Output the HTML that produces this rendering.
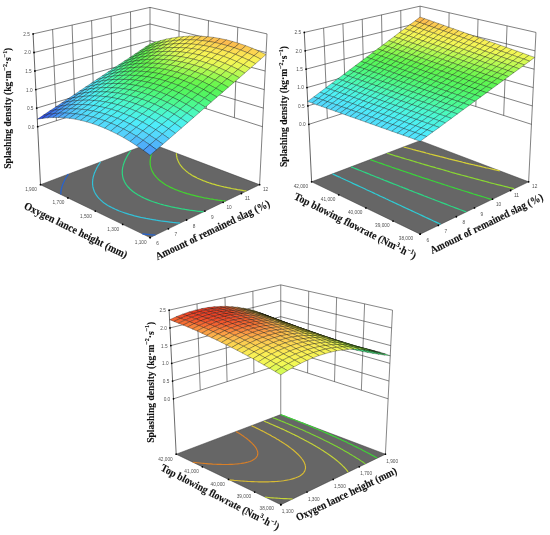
<!DOCTYPE html><html><head><meta charset="utf-8"><title>Figure</title>
<style>html,body{margin:0;padding:0;background:#fff}svg{display:block}</style></head><body>
<svg width="550" height="535" viewBox="0 0 550 535">
<rect width="550" height="535" fill="#fff"/>
<g transform="translate(0,0) scale(1)">
<path d="M37.7,126.7 L150,90.7 L262.5,126.7 M36.7,108.1 L150,74.1 L263.4,108.1 M35.8,89.6 L150,57.4 L264.3,89.6 M34.9,71 L150,40.7 L265.2,71 M34,52.5 L150,24 L266.1,52.5 M33.1,33.9 L150,7.4 L267,33.9 M56.4,120.7 L52.6,29.5 M75.1,114.7 L72.1,25.1 M93.8,108.7 L91.6,20.6 M112.6,102.7 L111.1,16.2 M131.3,96.7 L130.5,11.8 M150,143.2 L150,7.4 M259.6,184.7 L267,33.9 M234.4,117.7 L237.8,27.3 M206.3,108.7 L208.5,20.6 M178.1,99.7 L179.3,14" fill="none" stroke="#2c2c2c" stroke-width="0.6"/>
<path d="M40.5,184.7 L33.1,33.9" fill="none" stroke="#222" stroke-width="0.7"/>
<polygon points="40.5,184.7 150,143.2 259.6,184.7 150.1,237.6" fill="#666666" stroke="#333" stroke-width="0.5"/>
<polyline points="142.3,233.8 144.9,234.1 146.7,234.3 148.4,234.4 150.1,234.6 152.5,234.8 155,235 155.5,235" fill="none" stroke="#2563d1" stroke-width="1.2"/>
<polyline points="68.3,174.2 67.7,175.1 67.1,176 66.7,176.6 66.3,177.3 65.9,177.9 65.5,178.6 65.1,179.5 64.6,180.3 64.2,181.2 63.8,182 63.5,182.7 63.2,183.4 62.9,184.1 62.7,184.8 62.4,185.5 62.1,186.3 61.9,187 61.7,187.8 61.5,188.6 61.3,189.4 61.2,190.2 61,191 60.9,191.9 60.9,192.7 60.8,193.6 60.8,194.5 60.8,194.5" fill="none" stroke="#2563d1" stroke-width="1.2"/>
<polyline points="100.6,162 100,162.7 99.7,163.3 99.3,163.9 98.8,164.6 98.3,165.4 97.8,166.2 97.5,166.8 97.1,167.4 96.8,168 96.4,168.8 96,169.7 95.6,170.5 95.3,171.2 95,171.8 94.7,172.5 94.5,173.1 94.2,173.8 94,174.5 93.7,175.3 93.5,176.1 93.3,176.9 93.1,177.7 93,178.4 92.8,179.2 92.7,179.9 92.7,180.7 92.6,181.4 92.6,182.1 92.5,182.9 92.6,183.6 92.6,184.3 92.7,185.2 92.8,186 92.9,186.9 93.1,187.8 93.3,188.4 93.5,189.1 93.7,189.8 94.1,190.8 94.4,191.7 94.7,192.3 95.1,193 95.8,194.2 96.2,194.8 96.6,195.5 97.5,196.6 97.9,197.2 98.9,198.3 99.5,198.9 100.5,199.9 101.2,200.6 102.5,201.6 103.1,202.2 104.5,203.2 106,204.2 106.7,204.7 108.3,205.7 110,206.6 111.7,207.5 113.5,208.4 115.4,209.3 117.3,210.1 119.4,211 121.5,211.8 123.6,212.5 124.7,212.9 127,213.6 129.3,214.4 130.5,214.7 133,215.4 134.5,215.8 136.7,216.3 138.7,216.8 140.7,217.3 142.5,217.7 144.7,218.1 146.1,218.4 148.9,218.9 150.3,219.2 152.7,219.6 154.7,219.9 156.2,220.2 158.8,220.6 160.7,220.9 162.3,221.1 164.5,221.4 167,221.7 168.6,221.9 170.2,222.1 172.7,222.4 175.1,222.6 176.8,222.8 178.4,222.9 180.1,223.1" fill="none" stroke="#32c1d8" stroke-width="1.2"/>
<polyline points="130.8,150.5 130.2,151.4 129.8,152 129.4,152.5 129.1,153.1 128.5,153.9 128.1,154.7 127.7,155.2 127.4,155.7 127,156.4 126.6,157.3 126.2,158 125.9,158.6 125.6,159.1 125.3,159.7 125,160.5 124.6,161.3 124.3,162.1 124.1,162.7 123.9,163.3 123.6,164 123.4,164.6 123.3,165.2 123.1,165.9 122.9,166.7 122.7,167.4 122.6,168.2 122.5,168.9 122.4,169.6 122.3,170.3 122.3,171.1 122.3,171.8 122.3,172.5 122.3,173.2 122.3,173.9 122.4,174.5 122.5,175.3 122.6,176.1 122.8,176.9 123,177.8 123.2,178.5 123.4,179.2 123.7,179.8 124,180.5 124.4,181.5 124.8,182.3 125.2,182.9 125.6,183.6 126.3,184.7 126.7,185.3 127.2,185.9 128.1,187 128.6,187.5 129.6,188.5 130.2,189.2 131.2,190 132,190.8 133.3,191.8 134,192.3 135.4,193.3 136.7,194.1 137.7,194.7 139.3,195.6 140.9,196.5 142.7,197.4 144.5,198.3 146.4,199.1 148.3,199.9 150.3,200.7 152.4,201.5 154.6,202.2 156.7,202.9 157.9,203.3 160.2,204 162.4,204.6 163.8,205 166.3,205.6 167.5,205.9 170.1,206.5 171.4,206.8 174,207.3 175.4,207.6 178.1,208.1 179.5,208.4 181.7,208.8 183.7,209.1 185.2,209.4 187.9,209.8 189.6,210.1 191.1,210.3 193.8,210.6 195.6,210.9 197.2,211.1 199.3,211.3 201.9,211.6 203.5,211.8 203.5,211.8" fill="none" stroke="#2cd783" stroke-width="1.2"/>
<polyline points="155.5,145.3 155.2,145.8 154.9,146.4 154.4,147.2 154.1,147.9 153.8,148.4 153.5,148.9 153.2,149.6 152.9,150.3 152.5,151.1 152.3,151.7 152.1,152.2 151.9,152.8 151.7,153.4 151.4,154.2 151.2,154.9 151,155.6 150.8,156.3 150.7,156.9 150.6,157.6 150.5,158.2 150.4,158.8 150.3,159.5 150.2,160.1 150.2,160.8 150.1,161.4 150.1,162.1 150.2,162.8 150.2,163.5 150.2,164.2 150.3,165 150.4,165.7 150.6,166.5 150.8,167.2 151,168 151.2,168.6 151.4,169.2 151.6,169.9 151.9,170.5 152.3,171.4 152.8,172.3 153.1,172.9 153.5,173.5 154,174.3 154.6,175.2 155.1,175.7 155.6,176.4 156.5,177.4 157,177.9 157.9,178.9 158.6,179.5 159.4,180.2 160.4,181 161.4,181.8 162.4,182.5 163.8,183.5 164.5,184 166,184.9 167.6,185.8 168.6,186.3 170.1,187.1 171.8,187.9 173.7,188.8 175.5,189.6 177.5,190.3 179.5,191.1 181.6,191.8 182.9,192.3 184.8,192.9 187,193.6 189.3,194.2 190.5,194.6 192.8,195.2 194.8,195.7 196.5,196.1 199,196.7 200.3,196.9 202.9,197.5 204.2,197.8 206.6,198.2 208.3,198.5 209.9,198.8 212.4,199.2 213.8,199.5 216.2,199.8 218.1,200.1 219.6,200.3 222.1,200.7 224.1,200.9 225.6,201.1 225.6,201.1" fill="none" stroke="#43d42f" stroke-width="1.2"/>
<polyline points="176.4,153.2 176.4,153.8 176.4,154.5 176.5,155.2 176.6,155.8 176.7,156.5 176.9,157.2 177,157.9 177.2,158.7 177.5,159.3 177.7,159.9 177.9,160.5 178.2,161.1 178.5,161.8 178.9,162.6 179.4,163.5 179.7,164 180.1,164.6 180.6,165.3 181.3,166.2 181.8,166.8 182.2,167.3 183.1,168.3 183.7,168.9 184.2,169.4 185.4,170.4 185.9,170.9 187.2,171.9 187.8,172.4 189.1,173.4 189.8,173.8 191.2,174.7 192.3,175.4 193.5,176.1 195.1,176.9 196.8,177.8 197.6,178.2 199.4,179 201.2,179.8 203.1,180.6 205,181.3 207,182.1 209.1,182.8 210.1,183.1 212.3,183.8 214.5,184.4 216.7,185.1 217.9,185.4 220.2,186 222.2,186.5 223.9,186.9 226.3,187.4 227.6,187.7 230.2,188.2 231.5,188.5 234.1,189 235.4,189.2 237.5,189.6 239.5,189.9 240.9,190.1 243.7,190.6 245.1,190.8 246.5,191" fill="none" stroke="#cad636" stroke-width="1.2"/>
<circle cx="150.1" cy="237.6" r="0.9" fill="#000"/>
<circle cx="168.4" cy="228.8" r="0.9" fill="#000"/>
<circle cx="186.6" cy="220" r="0.9" fill="#000"/>
<circle cx="204.9" cy="211.1" r="0.9" fill="#000"/>
<circle cx="223.1" cy="202.3" r="0.9" fill="#000"/>
<circle cx="241.4" cy="193.5" r="0.9" fill="#000"/>
<circle cx="259.6" cy="184.7" r="0.9" fill="#000"/>
<circle cx="150.1" cy="237.6" r="0.9" fill="#000"/>
<circle cx="122.7" cy="224.4" r="0.9" fill="#000"/>
<circle cx="95.3" cy="211.1" r="0.9" fill="#000"/>
<circle cx="67.9" cy="197.9" r="0.9" fill="#000"/>
<circle cx="40.5" cy="184.7" r="0.9" fill="#000"/>
<circle cx="37.7" cy="126.7" r="0.9" fill="#000"/>
<circle cx="36.7" cy="108.1" r="0.9" fill="#000"/>
<circle cx="35.8" cy="89.6" r="0.9" fill="#000"/>
<circle cx="34.9" cy="71" r="0.9" fill="#000"/>
<circle cx="34" cy="52.5" r="0.9" fill="#000"/>
<circle cx="33.1" cy="33.9" r="0.9" fill="#000"/>
<g stroke="#000" stroke-opacity="0.66" stroke-width="0.46" stroke-linejoin="round">
<polygon points="150.3,45.6 155.4,42.1 150,44 144.9,47.4" fill="#67f64e"/>
<polygon points="145.1,49.1 150.3,45.6 144.9,47.4 139.7,50.9" fill="#5cf655"/>
<polygon points="155.8,44 160.9,40.5 155.4,42.1 150.3,45.6" fill="#8ef94f"/>
<polygon points="139.9,52.6 145.1,49.1 139.7,50.9 134.5,54.4" fill="#55f65e"/>
<polygon points="150.6,47.6 155.8,44 150.3,45.6 145.1,49.1" fill="#74f74f"/>
<polygon points="134.6,56.2 139.9,52.6 134.5,54.4 129.3,57.9" fill="#4ff76b"/>
<polygon points="161.3,42.7 166.5,39.1 160.9,40.5 155.8,44" fill="#b3fa52"/>
<polygon points="145.3,51.1 150.6,47.6 145.1,49.1 139.9,52.6" fill="#60f651"/>
<polygon points="129.3,59.8 134.6,56.2 129.3,57.9 123.9,61.4" fill="#4df880"/>
<polygon points="156.1,46.3 161.3,42.7 155.8,44 150.6,47.6" fill="#97f950"/>
<polygon points="167,41.6 172.1,38 166.5,39.1 161.3,42.7" fill="#d4fa55"/>
<polygon points="140,54.7 145.3,51.1 139.9,52.6 134.6,56.2" fill="#58f65a"/>
<polygon points="150.9,49.9 156.1,46.3 150.6,47.6 145.3,51.1" fill="#7df84f"/>
<polygon points="123.9,63.4 129.3,59.8 123.9,61.4 118.6,65" fill="#4bfa94"/>
<polygon points="161.8,45.2 167,41.6 161.3,42.7 156.1,46.3" fill="#b9fa53"/>
<polygon points="134.7,58.4 140,54.7 134.6,56.2 129.3,59.8" fill="#51f663"/>
<polygon points="172.7,40.8 177.9,37.1 172.1,38 167,41.6" fill="#eef855"/>
<polygon points="145.6,53.6 150.9,49.9 145.3,51.1 140,54.7" fill="#63f64e"/>
<polygon points="118.4,67.1 123.9,63.4 118.6,65 113.1,68.6" fill="#4bf9ac"/>
<polygon points="156.5,48.9 161.8,45.2 156.1,46.3 150.9,49.9" fill="#9dfa50"/>
<polygon points="129.3,62.1 134.7,58.4 129.3,59.8 123.9,63.4" fill="#4ef776"/>
<polygon points="167.5,44.4 172.7,40.8 167,41.6 161.8,45.2" fill="#d7f955"/>
<polygon points="140.2,57.3 145.6,53.6 140,54.7 134.7,58.4" fill="#5bf657"/>
<polygon points="112.9,70.8 118.4,67.1 113.1,68.6 107.6,72.3" fill="#4bf8c5"/>
<polygon points="178.5,40.2 183.7,36.5 177.9,37.1 172.7,40.8" fill="#f6f455"/>
<polygon points="151.2,52.6 156.5,48.9 150.9,49.9 145.6,53.6" fill="#83f84f"/>
<polygon points="123.8,65.8 129.3,62.1 123.9,63.4 118.4,67.1" fill="#4cf98b"/>
<polygon points="162.2,48.2 167.5,44.4 161.8,45.2 156.5,48.9" fill="#bcfa53"/>
<polygon points="134.8,61 140.2,57.3 134.7,58.4 129.3,62.1" fill="#53f660"/>
<polygon points="107.4,74.6 112.9,70.8 107.6,72.3 102.1,76" fill="#4cf6da"/>
<polygon points="173.2,43.9 178.5,40.2 172.7,40.8 167.5,44.4" fill="#edf855"/>
<polygon points="145.8,56.4 151.2,52.6 145.6,53.6 140.2,57.3" fill="#68f64e"/>
<polygon points="118.3,69.6 123.8,65.8 118.4,67.1 112.9,70.8" fill="#4bfaa2"/>
<polygon points="184.3,39.9 189.5,36.1 183.7,36.5 178.5,40.2" fill="#faee55"/>
<polygon points="156.9,51.9 162.2,48.2 156.5,48.9 151.2,52.6" fill="#9ffa50"/>
<polygon points="129.3,64.8 134.8,61 129.3,62.1 123.8,65.8" fill="#4ff770"/>
<polygon points="101.8,78.3 107.4,74.6 102.1,76 96.5,79.7" fill="#4df2ea"/>
<polygon points="168,47.7 173.2,43.9 167.5,44.4 162.2,48.2" fill="#d5fa55"/>
<polygon points="140.4,60.1 145.8,56.4 140.2,57.3 134.8,61" fill="#5cf655"/>
<polygon points="112.8,73.4 118.3,69.6 112.9,70.8 107.4,74.6" fill="#4bf9ba"/>
<polygon points="179.1,43.7 184.3,39.9 178.5,40.2 173.2,43.9" fill="#f5f555"/>
<polygon points="151.5,55.7 156.9,51.9 151.2,52.6 145.8,56.4" fill="#84f84f"/>
<polygon points="123.8,68.6 129.3,64.8 123.8,65.8 118.3,69.6" fill="#4df985"/>
<polygon points="96.1,82.2 101.8,78.3 96.5,79.7 90.9,83.5" fill="#4eeefa"/>
<polygon points="190.3,39.8 195.5,36 189.5,36.1 184.3,39.9" fill="#fbe253"/>
<polygon points="162.6,51.5 168,47.7 162.2,48.2 156.9,51.9" fill="#bafa53"/>
<polygon points="134.9,64 140.4,60.1 134.8,61 129.3,64.8" fill="#55f65e"/>
<polygon points="107.1,77.2 112.8,73.4 107.4,74.6 101.8,78.3" fill="#4bf8d3"/>
<polygon points="173.8,47.5 179.1,43.7 173.2,43.9 168,47.7" fill="#e9f855"/>
<polygon points="146,59.6 151.5,55.7 145.8,56.4 140.4,60.1" fill="#69f64e"/>
<polygon points="118.2,72.4 123.8,68.6 118.3,69.6 112.8,73.4" fill="#4bfa9a"/>
<polygon points="90.4,86 96.1,82.2 90.9,83.5 85.2,87.3" fill="#51e3fb"/>
<polygon points="185,43.7 190.3,39.8 184.3,39.9 179.1,43.7" fill="#f9f155"/>
<polygon points="157.2,55.4 162.6,51.5 156.9,51.9 151.5,55.7" fill="#9dfa50"/>
<polygon points="129.4,67.8 134.9,64 129.3,64.8 123.8,68.6" fill="#4ff76d"/>
<polygon points="196.3,40.1 201.5,36.2 195.5,36 190.3,39.8" fill="#fcd752"/>
<polygon points="101.5,81.1 107.1,77.2 101.8,78.3 96.1,82.2" fill="#4cf4e3"/>
<polygon points="168.5,51.4 173.8,47.5 168,47.7 162.6,51.5" fill="#d1fa55"/>
<polygon points="140.5,63.5 146,59.6 140.4,60.1 134.9,64" fill="#5cf655"/>
<polygon points="112.6,76.3 118.2,72.4 112.8,73.4 107.1,77.2" fill="#4bf9b4"/>
<polygon points="84.6,89.9 90.4,86 85.2,87.3 79.4,91.2" fill="#54d9fc"/>
<polygon points="179.8,47.6 185,43.7 179.1,43.7 173.8,47.5" fill="#f4f655"/>
<polygon points="151.8,59.3 157.2,55.4 151.5,55.7 146,59.6" fill="#82f84f"/>
<polygon points="123.8,71.7 129.4,67.8 123.8,68.6 118.2,72.4" fill="#4df882"/>
<polygon points="191.1,44 196.3,40.1 190.3,39.8 185,43.7" fill="#fbe954"/>
<polygon points="95.7,85 101.5,81.1 96.1,82.2 90.4,86" fill="#4ef0f4"/>
<polygon points="163.1,55.3 168.5,51.4 162.6,51.5 157.2,55.4" fill="#b4fa52"/>
<polygon points="202.4,40.6 207.6,36.7 201.5,36.2 196.3,40.1" fill="#fccd51"/>
<polygon points="135,67.4 140.5,63.5 134.9,64 129.4,67.8" fill="#55f65e"/>
<polygon points="106.9,80.2 112.6,76.3 107.1,77.2 101.5,81.1" fill="#4bf8cd"/>
<polygon points="78.8,93.9 84.6,89.9 79.4,91.2 73.6,95.1" fill="#53cafc"/>
<polygon points="174.4,51.5 179.8,47.6 173.8,47.5 168.5,51.4" fill="#e1f955"/>
<polygon points="146.3,63.2 151.8,59.3 146,59.6 140.5,63.5" fill="#67f64e"/>
<polygon points="118.1,75.7 123.8,71.7 118.2,72.4 112.6,76.3" fill="#4bfa97"/>
<polygon points="185.8,47.9 191.1,44 185,43.7 179.8,47.6" fill="#f7f355"/>
<polygon points="89.9,88.9 95.7,85 90.4,86 84.6,89.9" fill="#50e7fb"/>
<polygon points="157.6,59.2 163.1,55.3 157.2,55.4 151.8,59.3" fill="#97f950"/>
<polygon points="197.2,44.6 202.4,40.6 196.3,40.1 191.1,44" fill="#fbe153"/>
<polygon points="129.4,71.3 135,67.4 129.4,67.8 123.8,71.7" fill="#4ff76c"/>
<polygon points="101.1,84.2 106.9,80.2 101.5,81.1 95.7,85" fill="#4cf5df"/>
<polygon points="72.9,97.9 78.8,93.9 73.6,95.1 67.7,99" fill="#51b8fb"/>
<polygon points="169,55.5 174.4,51.5 168.5,51.4 163.1,55.3" fill="#c8fa54"/>
<polygon points="208.6,41.4 213.8,37.4 207.6,36.7 202.4,40.6" fill="#fcc650"/>
<polygon points="140.7,67.2 146.3,63.2 140.5,63.5 135,67.4" fill="#5cf656"/>
<polygon points="112.4,79.7 118.1,75.7 112.6,76.3 106.9,80.2" fill="#4bf9b1"/>
<polygon points="180.4,51.9 185.8,47.9 179.8,47.6 174.4,51.5" fill="#eff855"/>
<polygon points="84.1,92.9 89.9,88.9 84.6,89.9 78.8,93.9" fill="#53ddfb"/>
<polygon points="152.1,63.2 157.6,59.2 151.8,59.3 146.3,63.2" fill="#7cf84f"/>
<polygon points="191.9,48.6 197.2,44.6 191.1,44 185.8,47.9" fill="#f9f155"/>
<polygon points="123.7,75.3 129.4,71.3 123.8,71.7 118.1,75.7" fill="#4df882"/>
<polygon points="95.3,88.2 101.1,84.2 95.7,85 89.9,88.9" fill="#4df0f0"/>
<polygon points="66.9,101.9 72.9,97.9 67.7,99 61.7,103" fill="#4da6fa"/>
<polygon points="163.5,59.5 169,55.5 163.1,55.3 157.6,59.2" fill="#a9fa51"/>
<polygon points="203.4,45.5 208.6,41.4 202.4,40.6 197.2,44.6" fill="#fcdc52"/>
<polygon points="135.1,71.2 140.7,67.2 135,67.4 129.4,71.3" fill="#54f65f"/>
<polygon points="106.6,83.7 112.4,79.7 106.9,80.2 101.1,84.2" fill="#4bf8ca"/>
<polygon points="175,56 180.4,51.9 174.4,51.5 169,55.5" fill="#d6fa55"/>
<polygon points="214.9,42.5 220.1,38.5 213.8,37.4 208.6,41.4" fill="#fcc04f"/>
<polygon points="78.1,97 84.1,92.9 78.8,93.9 72.9,97.9" fill="#54d0fc"/>
<polygon points="146.5,67.3 152.1,63.2 146.3,63.2 140.7,67.2" fill="#61f64f"/>
<polygon points="186.5,52.6 191.9,48.6 185.8,47.9 180.4,51.9" fill="#f4f655"/>
<polygon points="118,79.4 123.7,75.3 118.1,75.7 112.4,79.7" fill="#4bfa98"/>
<polygon points="89.4,92.3 95.3,88.2 89.9,88.9 84.1,92.9" fill="#4feafa"/>
<polygon points="60.9,106 66.9,101.9 61.7,103 55.7,107" fill="#478ff5"/>
<polygon points="158,63.5 163.5,59.5 157.6,59.2 152.1,63.2" fill="#8df94f"/>
<polygon points="198,49.5 203.4,45.5 197.2,44.6 191.9,48.6" fill="#faed55"/>
<polygon points="129.4,75.3 135.1,71.2 129.4,71.3 123.7,75.3" fill="#4ff76f"/>
<polygon points="169.5,60 175,56 169,55.5 163.5,59.5" fill="#b9fa53"/>
<polygon points="100.8,87.8 106.6,83.7 101.1,84.2 95.3,88.2" fill="#4cf5de"/>
<polygon points="209.6,46.6 214.9,42.5 208.6,41.4 203.4,45.5" fill="#fcd752"/>
<polygon points="72.1,101.1 78.1,97 72.9,97.9 66.9,101.9" fill="#52befb"/>
<polygon points="140.9,71.3 146.5,67.3 140.7,67.2 135.1,71.2" fill="#5af658"/>
<polygon points="221.2,44 226.4,39.8 220.1,38.5 214.9,42.5" fill="#fcbc4e"/>
<polygon points="181.1,56.7 186.5,52.6 180.4,51.9 175,56" fill="#e1f955"/>
<polygon points="112.2,83.5 118,79.4 112.4,79.7 106.6,83.7" fill="#4bf9b1"/>
<polygon points="83.5,96.4 89.4,92.3 84.1,92.9 78.1,97" fill="#52dffb"/>
<polygon points="54.8,110.1 60.9,106 55.7,107 49.6,111" fill="#4078f1"/>
<polygon points="152.4,67.6 158,63.5 152.1,63.2 146.5,67.3" fill="#71f74e"/>
<polygon points="192.7,53.6 198,49.5 191.9,48.6 186.5,52.6" fill="#f5f555"/>
<polygon points="123.7,79.4 129.4,75.3 123.7,75.3 118,79.4" fill="#4df985"/>
<polygon points="204.3,50.8 209.6,46.6 203.4,45.5 198,49.5" fill="#fbe954"/>
<polygon points="164,64.1 169.5,60 163.5,59.5 158,63.5" fill="#9bfa50"/>
<polygon points="94.9,91.9 100.8,87.8 95.3,88.2 89.4,92.3" fill="#4df1ef"/>
<polygon points="66.1,105.2 72.1,101.1 66.9,101.9 60.9,106" fill="#4facfa"/>
<polygon points="135.2,75.5 140.9,71.3 135.1,71.2 129.4,75.3" fill="#52f662"/>
<polygon points="215.9,48.1 221.2,44 214.9,42.5 209.6,46.6" fill="#fcd451"/>
<polygon points="175.6,60.9 181.1,56.7 175,56 169.5,60" fill="#c6fa54"/>
<polygon points="106.4,87.6 112.2,83.5 106.6,83.7 100.8,87.8" fill="#4bf8cb"/>
<polygon points="227.6,45.7 232.8,41.5 226.4,39.8 221.2,44" fill="#fcbc4e"/>
<polygon points="77.5,100.5 83.5,96.4 78.1,97 72.1,101.1" fill="#55d4fc"/>
<polygon points="146.8,71.8 152.4,67.6 146.5,67.3 140.9,71.3" fill="#5ef652"/>
<polygon points="48.6,114.2 54.8,110.1 49.6,111 43.5,115.1" fill="#3963ed"/>
<polygon points="187.2,57.8 192.7,53.6 186.5,52.6 181.1,56.7" fill="#e8f955"/>
<polygon points="117.9,83.5 123.7,79.4 118,79.4 112.2,83.5" fill="#4bfa9c"/>
<polygon points="198.9,54.9 204.3,50.8 198,49.5 192.7,53.6" fill="#f7f355"/>
<polygon points="158.4,68.3 164,64.1 158,63.5 152.4,67.6" fill="#7ff84f"/>
<polygon points="89,96 94.9,91.9 89.4,92.3 83.5,96.4" fill="#4feafa"/>
<polygon points="60,109.4 66.1,105.2 60.9,106 54.8,110.1" fill="#4996f7"/>
<polygon points="129.5,79.6 135.2,75.5 129.4,75.3 123.7,79.4" fill="#4ef776"/>
<polygon points="210.6,52.3 215.9,48.1 209.6,46.6 204.3,50.8" fill="#fbe854"/>
<polygon points="170.1,65 175.6,60.9 169.5,60 164,64.1" fill="#a7fa51"/>
<polygon points="100.5,91.8 106.4,87.6 100.8,87.8 94.9,91.9" fill="#4cf5df"/>
<polygon points="222.4,49.9 227.6,45.7 221.2,44 215.9,48.1" fill="#fcd451"/>
<polygon points="71.4,104.7 77.5,100.5 72.1,101.1 66.1,105.2" fill="#52c1fb"/>
<polygon points="141.1,76 146.8,71.8 140.9,71.3 135.2,75.5" fill="#56f65c"/>
<polygon points="42.4,118.4 48.6,114.2 43.5,115.1 37.3,119.3" fill="#3050e8"/>
<polygon points="181.7,62 187.2,57.8 181.1,56.7 175.6,60.9" fill="#cffa55"/>
<polygon points="234.1,47.7 239.3,43.5 232.8,41.5 227.6,45.7" fill="#fcbf4e"/>
<polygon points="112,87.7 117.9,83.5 112.2,83.5 106.4,87.6" fill="#4bf9b6"/>
<polygon points="193.5,59.2 198.9,54.9 192.7,53.6 187.2,57.8" fill="#edf855"/>
<polygon points="152.8,72.5 158.4,68.3 152.4,67.6 146.8,71.8" fill="#63f64e"/>
<polygon points="82.9,100.2 89,96 83.5,96.4 77.5,100.5" fill="#52dffb"/>
<polygon points="53.8,113.6 60,109.4 54.8,110.1 48.6,114.2" fill="#427ff3"/>
<polygon points="123.7,83.8 129.5,79.6 123.7,79.4 117.9,83.5" fill="#4cf98c"/>
<polygon points="205.2,56.6 210.6,52.3 204.3,50.8 198.9,54.9" fill="#f7f355"/>
<polygon points="164.5,69.3 170.1,65 164,64.1 158.4,68.3" fill="#8af94f"/>
<polygon points="94.5,96 100.5,91.8 94.9,91.9 89,96" fill="#4df1f0"/>
<polygon points="217,54.2 222.4,49.9 215.9,48.1 210.6,52.3" fill="#fbe854"/>
<polygon points="65.3,108.9 71.4,104.7 66.1,105.2 60,109.4" fill="#4faffa"/>
<polygon points="135.3,80.2 141.1,76 135.2,75.5 129.5,79.6" fill="#50f668"/>
<polygon points="176.2,66.2 181.7,62 175.6,60.9 170.1,65" fill="#b0fa52"/>
<polygon points="228.8,52 234.1,47.7 227.6,45.7 222.4,49.9" fill="#fcd752"/>
<polygon points="106.1,91.9 112,87.7 106.4,87.6 100.5,91.8" fill="#4bf8d0"/>
<polygon points="188,63.4 193.5,59.2 187.2,57.8 181.7,62" fill="#d3fa55"/>
<polygon points="147.1,76.7 152.8,72.5 146.8,71.8 141.1,76" fill="#5af657"/>
<polygon points="240.7,50.1 245.9,45.7 239.3,43.5 234.1,47.7" fill="#fcc450"/>
<polygon points="76.9,104.5 82.9,100.2 77.5,100.5 71.4,104.7" fill="#55d4fc"/>
<polygon points="47.6,117.8 53.8,113.6 48.6,114.2 42.4,118.4" fill="#3b69ee"/>
<polygon points="199.8,60.8 205.2,56.6 198.9,54.9 193.5,59.2" fill="#eff855"/>
<polygon points="117.8,88.1 123.7,83.8 117.9,83.5 112,87.7" fill="#4bfaa4"/>
<polygon points="158.8,73.5 164.5,69.3 158.4,68.3 152.8,72.5" fill="#6ef74e"/>
<polygon points="88.5,100.2 94.5,96 89,96 82.9,100.2" fill="#4fe9fa"/>
<polygon points="211.6,58.5 217,54.2 210.6,52.3 205.2,56.6" fill="#f7f355"/>
<polygon points="59.1,113.2 65.3,108.9 60,109.4 53.8,113.6" fill="#4a99f7"/>
<polygon points="129.5,84.4 135.3,80.2 129.5,79.6 123.7,83.8" fill="#4df87f"/>
<polygon points="170.6,70.5 176.2,66.2 170.1,65 164.5,69.3" fill="#92f950"/>
<polygon points="223.5,56.3 228.8,52 222.4,49.9 217,54.2" fill="#fbea54"/>
<polygon points="100.1,96.2 106.1,91.9 100.5,91.8 94.5,96" fill="#4cf4e2"/>
<polygon points="182.4,67.7 188,63.4 181.7,62 176.2,66.2" fill="#b5fa52"/>
<polygon points="141.3,81 147.1,76.7 141.1,76 135.3,80.2" fill="#52f661"/>
<polygon points="235.4,54.4 240.7,50.1 234.1,47.7 228.8,52" fill="#fcdc52"/>
<polygon points="70.7,108.8 76.9,104.5 71.4,104.7 65.3,108.9" fill="#52c2fb"/>
<polygon points="247.3,52.7 252.5,48.3 245.9,45.7 240.7,50.1" fill="#fccc51"/>
<polygon points="194.3,65.2 199.8,60.8 193.5,59.2 188,63.4" fill="#d5fa55"/>
<polygon points="111.9,92.4 117.8,88.1 112,87.7 106.1,91.9" fill="#4bf9be"/>
<polygon points="153.1,77.8 158.8,73.5 152.8,72.5 147.1,76.7" fill="#5df654"/>
<polygon points="82.4,104.5 88.5,100.2 82.9,100.2 76.9,104.5" fill="#52defb"/>
<polygon points="206.2,62.8 211.6,58.5 205.2,56.6 199.8,60.8" fill="#eef855"/>
<polygon points="52.8,117.5 59.1,113.2 53.8,113.6 47.6,117.8" fill="#4382f3"/>
<polygon points="123.6,88.8 129.5,84.4 123.7,83.8 117.8,88.1" fill="#4bfa95"/>
<polygon points="164.9,74.8 170.6,70.5 164.5,69.3 158.8,73.5" fill="#75f74f"/>
<polygon points="218.1,60.7 223.5,56.3 217,54.2 211.6,58.5" fill="#f6f455"/>
<polygon points="94.1,100.5 100.1,96.2 94.5,96 88.5,100.2" fill="#4ef0f4"/>
<polygon points="176.8,72.1 182.4,67.7 176.2,66.2 170.6,70.5" fill="#96f950"/>
<polygon points="230.1,58.8 235.4,54.4 228.8,52 223.5,56.3" fill="#faee55"/>
<polygon points="135.5,85.4 141.3,81 135.3,80.2 129.5,84.4" fill="#4ef775"/>
<polygon points="64.5,113.1 70.7,108.8 65.3,108.9 59.1,113.2" fill="#4faffa"/>
<polygon points="242,57.2 247.3,52.7 240.7,50.1 235.4,54.4" fill="#fbe253"/>
<polygon points="188.8,69.5 194.3,65.2 188,63.4 182.4,67.7" fill="#b7fa53"/>
<polygon points="105.9,96.7 111.9,92.4 106.1,91.9 100.1,96.2" fill="#4bf7d6"/>
<polygon points="147.3,82.2 153.1,77.8 147.1,76.7 141.3,81" fill="#55f65e"/>
<polygon points="254,55.7 259.2,51.3 252.5,48.3 247.3,52.7" fill="#fcd551"/>
<polygon points="76.2,108.9 82.4,104.5 76.9,104.5 70.7,108.8" fill="#55d2fc"/>
<polygon points="200.7,67.2 206.2,62.8 199.8,60.8 194.3,65.2" fill="#d4fa55"/>
<polygon points="117.7,93.1 123.6,88.8 117.8,88.1 111.9,92.4" fill="#4bf9b0"/>
<polygon points="159.2,79.2 164.9,74.8 158.8,73.5 153.1,77.8" fill="#5ff651"/>
<polygon points="212.7,65.1 218.1,60.7 211.6,58.5 206.2,62.8" fill="#eaf855"/>
<polygon points="88,104.9 94.1,100.5 88.5,100.2 82.4,104.5" fill="#50e7fb"/>
<polygon points="171.2,76.5 176.8,72.1 170.6,70.5 164.9,74.8" fill="#79f74f"/>
<polygon points="224.7,63.3 230.1,58.8 223.5,56.3 218.1,60.7" fill="#f5f555"/>
<polygon points="129.6,89.7 135.5,85.4 129.5,84.4 123.6,88.8" fill="#4cf98b"/>
<polygon points="58.2,117.5 64.5,113.1 59.1,113.2 52.8,117.5" fill="#4a99f7"/>
<polygon points="236.7,61.6 242,57.2 235.4,54.4 230.1,58.8" fill="#f9f155"/>
<polygon points="183.1,74 188.8,69.5 182.4,67.7 176.8,72.1" fill="#97f950"/>
<polygon points="99.8,101.1 105.9,96.7 100.1,96.2 94.1,100.5" fill="#4df2e8"/>
<polygon points="141.5,86.6 147.3,82.2 141.3,81 135.5,85.4" fill="#4ff76d"/>
<polygon points="248.7,60.2 254,55.7 247.3,52.7 242,57.2" fill="#fbe954"/>
<polygon points="195.1,71.7 200.7,67.2 194.3,65.2 188.8,69.5" fill="#b5fa52"/>
<polygon points="70,113.3 76.2,108.9 70.7,108.8 64.5,113.1" fill="#52c0fb"/>
<polygon points="260.8,59.1 266,54.5 259.2,51.3 254,55.7" fill="#fce053"/>
<polygon points="153.4,83.6 159.2,79.2 153.1,77.8 147.3,82.2" fill="#57f65c"/>
<polygon points="111.7,97.5 117.7,93.1 111.9,92.4 105.9,96.7" fill="#4bf8ca"/>
<polygon points="207.2,69.6 212.7,65.1 206.2,62.8 200.7,67.2" fill="#cffa55"/>
<polygon points="81.8,109.3 88,104.9 82.4,104.5 76.2,108.9" fill="#53dcfb"/>
<polygon points="165.4,80.9 171.2,76.5 164.9,74.8 159.2,79.2" fill="#60f650"/>
<polygon points="219.2,67.8 224.7,63.3 218.1,60.7 212.7,65.1" fill="#e4f955"/>
<polygon points="123.6,94.2 129.6,89.7 123.6,88.8 117.7,93.1" fill="#4bfaa4"/>
<polygon points="231.3,66.2 236.7,61.6 230.1,58.8 224.7,63.3" fill="#f3f755"/>
<polygon points="177.5,78.4 183.1,74 176.8,72.1 171.2,76.5" fill="#7af84f"/>
<polygon points="93.7,105.5 99.8,101.1 94.1,100.5 88,104.9" fill="#4eeefa"/>
<polygon points="135.6,91 141.5,86.6 135.5,85.4 129.6,89.7" fill="#4df984"/>
<polygon points="243.4,64.8 248.7,60.2 242,57.2 236.7,61.6" fill="#f6f455"/>
<polygon points="189.5,76.2 195.1,71.7 188.8,69.5 183.1,74" fill="#95f950"/>
<polygon points="63.7,117.7 70,113.3 64.5,113.1 58.2,117.5" fill="#4fadfa"/>
<polygon points="255.5,63.7 260.8,59.1 254,55.7 248.7,60.2" fill="#f9f155"/>
<polygon points="147.6,88.1 153.4,83.6 147.3,82.2 141.5,86.6" fill="#50f668"/>
<polygon points="105.6,102 111.7,97.5 105.9,96.7 99.8,101.1" fill="#4cf5df"/>
<polygon points="201.6,74.1 207.2,69.6 200.7,67.2 195.1,71.7" fill="#affa52"/>
<polygon points="75.6,113.8 81.8,109.3 76.2,108.9 70,113.3" fill="#54cefc"/>
<polygon points="159.7,85.4 165.4,80.9 159.2,79.2 153.4,83.6" fill="#58f65a"/>
<polygon points="213.7,72.3 219.2,67.8 212.7,65.1 207.2,69.6" fill="#c8fa54"/>
<polygon points="117.6,98.7 123.6,94.2 117.7,93.1 111.7,97.5" fill="#4bf9bf"/>
<polygon points="225.9,70.8 231.3,66.2 224.7,63.3 219.2,67.8" fill="#daf955"/>
<polygon points="171.7,83 177.5,78.4 171.2,76.5 165.4,80.9" fill="#60f650"/>
<polygon points="87.5,110 93.7,105.5 88,104.9 81.8,109.3" fill="#51e3fb"/>
<polygon points="129.6,95.5 135.6,91 129.6,89.7 123.6,94.2" fill="#4bfa9b"/>
<polygon points="238,69.4 243.4,64.8 236.7,61.6 231.3,66.2" fill="#e9f855"/>
<polygon points="183.9,80.7 189.5,76.2 183.1,74 177.5,78.4" fill="#78f74f"/>
<polygon points="250.2,68.3 255.5,63.7 248.7,60.2 243.4,64.8" fill="#f3f755"/>
<polygon points="141.7,92.6 147.6,88.1 141.5,86.6 135.6,91" fill="#4df87f"/>
<polygon points="99.5,106.5 105.6,102 99.8,101.1 93.7,105.5" fill="#4df0f1"/>
<polygon points="196,78.7 201.6,74.1 195.1,71.7 189.5,76.2" fill="#90f94f"/>
<polygon points="69.2,118.3 75.6,113.8 70,113.3 63.7,117.7" fill="#51bbfb"/>
<polygon points="208.2,76.9 213.7,72.3 207.2,69.6 201.6,74.1" fill="#a7fa51"/>
<polygon points="153.8,90 159.7,85.4 153.4,83.6 147.6,88.1" fill="#50f665"/>
<polygon points="111.5,103.2 117.6,98.7 111.7,97.5 105.6,102" fill="#4bf7d7"/>
<polygon points="220.4,75.4 225.9,70.8 219.2,67.8 213.7,72.3" fill="#bcfa53"/>
<polygon points="165.9,87.5 171.7,83 165.4,80.9 159.7,85.4" fill="#58f65a"/>
<polygon points="81.2,114.6 87.5,110 81.8,109.3 75.6,113.8" fill="#54d7fc"/>
<polygon points="232.6,74.1 238,69.4 231.3,66.2 225.9,70.8" fill="#cefa55"/>
<polygon points="123.6,100.1 129.6,95.5 123.6,94.2 117.6,98.7" fill="#4bf9b7"/>
<polygon points="178.1,85.3 183.9,80.7 177.5,78.4 171.7,83" fill="#60f651"/>
<polygon points="244.8,73 250.2,68.3 243.4,64.8 238,69.4" fill="#daf955"/>
<polygon points="135.7,97.2 141.7,92.6 135.6,91 129.6,95.5" fill="#4bfa96"/>
<polygon points="93.3,111 99.5,106.5 93.7,105.5 87.5,110" fill="#4fe9fa"/>
<polygon points="190.3,83.3 196,78.7 189.5,76.2 183.9,80.7" fill="#72f74f"/>
<polygon points="202.6,81.6 208.2,76.9 201.6,74.1 196,78.7" fill="#88f84f"/>
<polygon points="147.9,94.6 153.8,90 147.6,88.1 141.7,92.6" fill="#4ef87d"/>
<polygon points="105.4,107.8 111.5,103.2 105.6,102 99.5,106.5" fill="#4df2e9"/>
<polygon points="214.8,80 220.4,75.4 213.7,72.3 208.2,76.9" fill="#9bfa50"/>
<polygon points="160.1,92.1 165.9,87.5 159.7,85.4 153.8,90" fill="#50f666"/>
<polygon points="227.1,78.8 232.6,74.1 225.9,70.8 220.4,75.4" fill="#acfa51"/>
<polygon points="74.9,119.1 81.2,114.6 75.6,113.8 69.2,118.3" fill="#53c6fb"/>
<polygon points="117.5,104.7 123.6,100.1 117.6,98.7 111.5,103.2" fill="#4bf8d2"/>
<polygon points="172.3,90 178.1,85.3 171.7,83 165.9,87.5" fill="#57f65b"/>
<polygon points="239.4,77.7 244.8,73 238,69.4 232.6,74.1" fill="#bbfa53"/>
<polygon points="129.7,101.8 135.7,97.2 129.6,95.5 123.6,100.1" fill="#4bf9b2"/>
<polygon points="87,115.7 93.3,111 87.5,110 81.2,114.6" fill="#53ddfb"/>
<polygon points="184.6,88 190.3,83.3 183.9,80.7 178.1,85.3" fill="#5ef653"/>
<polygon points="196.9,86.3 202.6,81.6 196,78.7 190.3,83.3" fill="#69f64e"/>
<polygon points="141.9,99.2 147.9,94.6 141.7,92.6 135.7,97.2" fill="#4bfa94"/>
<polygon points="99.1,112.4 105.4,107.8 99.5,106.5 93.3,111" fill="#4eedfa"/>
<polygon points="209.2,84.8 214.8,80 208.2,76.9 202.6,81.6" fill="#7cf84f"/>
<polygon points="154.2,96.8 160.1,92.1 153.8,90 147.9,94.6" fill="#4df87d"/>
<polygon points="221.5,83.5 227.1,78.8 220.4,75.4 214.8,80" fill="#8cf94f"/>
<polygon points="111.3,109.3 117.5,104.7 111.5,103.2 105.4,107.8" fill="#4cf3e4"/>
<polygon points="233.9,82.5 239.4,77.7 232.6,74.1 227.1,78.8" fill="#9afa50"/>
<polygon points="166.5,94.7 172.3,90 165.9,87.5 160.1,92.1" fill="#50f668"/>
<polygon points="123.6,106.5 129.7,101.8 123.6,100.1 117.5,104.7" fill="#4bf8ce"/>
<polygon points="80.6,120.3 87,115.7 81.2,114.6 74.9,119.1" fill="#54d0fc"/>
<polygon points="178.8,92.7 184.6,88 178.1,85.3 172.3,90" fill="#55f65e"/>
<polygon points="191.1,91 196.9,86.3 190.3,83.3 184.6,88" fill="#5bf656"/>
<polygon points="135.9,103.9 141.9,99.2 135.7,97.2 129.7,101.8" fill="#4bf9b0"/>
<polygon points="92.9,117.1 99.1,112.4 93.3,111 87,115.7" fill="#51e1fb"/>
<polygon points="203.5,89.5 209.2,84.8 202.6,81.6 196.9,86.3" fill="#61f650"/>
<polygon points="148.2,101.5 154.2,96.8 147.9,94.6 141.9,99.2" fill="#4bfa95"/>
<polygon points="215.9,88.3 221.5,83.5 214.8,80 209.2,84.8" fill="#6df74e"/>
<polygon points="105.1,114 111.3,109.3 105.4,107.8 99.1,112.4" fill="#4eeff7"/>
<polygon points="228.3,87.3 233.9,82.5 227.1,78.8 221.5,83.5" fill="#7af84f"/>
<polygon points="160.5,99.4 166.5,94.7 160.1,92.1 154.2,96.8" fill="#4df880"/>
<polygon points="117.4,111.2 123.6,106.5 117.5,104.7 111.3,109.3" fill="#4cf4e2"/>
<polygon points="172.9,97.5 178.8,92.7 172.3,90 166.5,94.7" fill="#4ff76e"/>
<polygon points="185.3,95.8 191.1,91 184.6,88 178.8,92.7" fill="#53f661"/>
<polygon points="129.7,108.7 135.9,103.9 129.7,101.8 123.6,106.5" fill="#4bf8cc"/>
<polygon points="86.5,121.8 92.9,117.1 87,115.7 80.6,120.3" fill="#55d6fc"/>
<polygon points="197.8,94.4 203.5,89.5 196.9,86.3 191.1,91" fill="#58f65b"/>
<polygon points="142.1,106.3 148.2,101.5 141.9,99.2 135.9,103.9" fill="#4bf9b1"/>
<polygon points="210.2,93.2 215.9,88.3 209.2,84.8 203.5,89.5" fill="#5cf655"/>
<polygon points="98.8,118.8 105.1,114 99.1,112.4 92.9,117.1" fill="#51e4fb"/>
<polygon points="222.7,92.2 228.3,87.3 221.5,83.5 215.9,88.3" fill="#60f650"/>
<polygon points="154.5,104.2 160.5,99.4 154.2,96.8 148.2,101.5" fill="#4bfa99"/>
<polygon points="111.2,116 117.4,111.2 111.3,109.3 105.1,114" fill="#4ef0f4"/>
<polygon points="167,102.3 172.9,97.5 166.5,94.7 160.5,99.4" fill="#4df986"/>
<polygon points="179.5,100.7 185.3,95.8 178.8,92.7 172.9,97.5" fill="#4ef775"/>
<polygon points="123.6,113.5 129.7,108.7 123.6,106.5 117.4,111.2" fill="#4cf4e1"/>
<polygon points="191.9,99.3 197.8,94.4 191.1,91 185.3,95.8" fill="#50f667"/>
<polygon points="136,111.1 142.1,106.3 135.9,103.9 129.7,108.7" fill="#4bf8cd"/>
<polygon points="204.5,98.1 210.2,93.2 203.5,89.5 197.8,94.4" fill="#53f660"/>
<polygon points="92.4,123.6 98.8,118.8 92.9,117.1 86.5,121.8" fill="#54d8fc"/>
<polygon points="217,97.1 222.7,92.2 215.9,88.3 210.2,93.2" fill="#57f65c"/>
<polygon points="148.5,109 154.5,104.2 148.2,101.5 142.1,106.3" fill="#4bf9b5"/>
<polygon points="104.9,120.8 111.2,116 105.1,114 98.8,118.8" fill="#50e6fb"/>
<polygon points="161,107.2 167,102.3 160.5,99.4 154.5,104.2" fill="#4bfaa0"/>
<polygon points="173.5,105.6 179.5,100.7 172.9,97.5 167,102.3" fill="#4cf98e"/>
<polygon points="117.3,118.3 123.6,113.5 117.4,111.2 111.2,116" fill="#4df0f3"/>
<polygon points="186.1,104.2 191.9,99.3 185.3,95.8 179.5,100.7" fill="#4df880"/>
<polygon points="129.8,116 136,111.1 129.7,108.7 123.6,113.5" fill="#4cf4e2"/>
<polygon points="198.6,103.1 204.5,98.1 197.8,94.4 191.9,99.3" fill="#4ef774"/>
<polygon points="211.2,102.1 217,97.1 210.2,93.2 204.5,98.1" fill="#4ff66a"/>
<polygon points="142.4,114 148.5,109 142.1,106.3 136,111.1" fill="#4bf8d2"/>
<polygon points="98.5,125.7 104.9,120.8 98.8,118.8 92.4,123.6" fill="#53dafc"/>
<polygon points="154.9,112.1 161,107.2 154.5,104.2 148.5,109" fill="#4bf9bd"/>
<polygon points="167.5,110.5 173.5,105.6 167,102.3 161,107.2" fill="#4bf9aa"/>
<polygon points="111,123.2 117.3,118.3 111.2,116 104.9,120.8" fill="#50e6fb"/>
<polygon points="180.1,109.2 186.1,104.2 179.5,100.7 173.5,105.6" fill="#4bfa99"/>
<polygon points="123.6,120.9 129.8,116 123.6,113.5 117.3,118.3" fill="#4eeff5"/>
<polygon points="192.8,108.1 198.6,103.1 191.9,99.3 186.1,104.2" fill="#4cf98d"/>
<polygon points="205.4,107.2 211.2,102.1 204.5,98.1 198.6,103.1" fill="#4df983"/>
<polygon points="136.2,118.9 142.4,114 136,111.1 129.8,116" fill="#4cf3e5"/>
<polygon points="148.8,117.1 154.9,112.1 148.5,109 142.4,114" fill="#4bf7d7"/>
<polygon points="161.4,115.6 167.5,110.5 161,107.2 154.9,112.1" fill="#4bf8c7"/>
<polygon points="104.6,128.2 111,123.2 104.9,120.8 98.5,125.7" fill="#53dafc"/>
<polygon points="174.1,114.2 180.1,109.2 173.5,105.6 167.5,110.5" fill="#4bf9b7"/>
<polygon points="117.2,125.9 123.6,120.9 117.3,118.3 111,123.2" fill="#50e5fb"/>
<polygon points="186.8,113.1 192.8,108.1 186.1,104.2 180.1,109.2" fill="#4bf9a9"/>
<polygon points="199.6,112.3 205.4,107.2 198.6,103.1 192.8,108.1" fill="#4bfa9e"/>
<polygon points="129.9,123.9 136.2,118.9 129.8,116 123.6,120.9" fill="#4eeef8"/>
<polygon points="142.6,122.2 148.8,117.1 142.4,114 136.2,118.9" fill="#4df2ea"/>
<polygon points="155.3,120.6 161.4,115.6 154.9,112.1 148.8,117.1" fill="#4cf5de"/>
<polygon points="168.1,119.3 174.1,114.2 167.5,110.5 161.4,115.6" fill="#4bf8d4"/>
<polygon points="110.8,131 117.2,125.9 111,123.2 104.6,128.2" fill="#54d9fc"/>
<polygon points="180.8,118.3 186.8,113.1 180.1,109.2 174.1,114.2" fill="#4bf8c7"/>
<polygon points="193.6,117.5 199.6,112.3 192.8,108.1 186.8,113.1" fill="#4bf9bc"/>
<polygon points="123.6,129 129.9,123.9 123.6,120.9 117.2,125.9" fill="#51e3fb"/>
<polygon points="136.3,127.3 142.6,122.2 136.2,118.9 129.9,123.9" fill="#4fecfa"/>
<polygon points="149.1,125.8 155.3,120.6 148.8,117.1 142.6,122.2" fill="#4df0f2"/>
<polygon points="161.9,124.5 168.1,119.3 161.4,115.6 155.3,120.6" fill="#4df3e7"/>
<polygon points="174.8,123.5 180.8,118.3 174.1,114.2 168.1,119.3" fill="#4cf5df"/>
<polygon points="187.6,122.7 193.6,117.5 186.8,113.1 180.8,118.3" fill="#4bf7d8"/>
<polygon points="117.1,134.1 123.6,129 117.2,125.9 110.8,131" fill="#54d6fc"/>
<polygon points="130,132.4 136.3,127.3 129.9,123.9 123.6,129" fill="#52dffb"/>
<polygon points="142.8,130.9 149.1,125.8 142.6,122.2 136.3,127.3" fill="#50e7fb"/>
<polygon points="155.7,129.7 161.9,124.5 155.3,120.6 149.1,125.8" fill="#4eedfa"/>
<polygon points="168.6,128.7 174.8,123.5 168.1,119.3 161.9,124.5" fill="#4df0f3"/>
<polygon points="181.5,128 187.6,122.7 180.8,118.3 174.8,123.5" fill="#4df2ec"/>
<polygon points="123.6,137.6 130,132.4 123.6,129 117.1,134.1" fill="#55d1fc"/>
<polygon points="136.5,136.2 142.8,130.9 136.3,127.3 130,132.4" fill="#53dafc"/>
<polygon points="149.4,135 155.7,129.7 149.1,125.8 142.8,130.9" fill="#52e0fb"/>
<polygon points="162.4,134 168.6,128.7 161.9,124.5 155.7,129.7" fill="#50e6fb"/>
<polygon points="175.4,133.3 181.5,128 174.8,123.5 168.6,128.7" fill="#4feafa"/>
<polygon points="130.1,141.5 136.5,136.2 130,132.4 123.6,137.6" fill="#53c8fb"/>
<polygon points="143.1,140.3 149.4,135 142.8,130.9 136.5,136.2" fill="#55d3fc"/>
<polygon points="156.1,139.4 162.4,134 155.7,129.7 149.4,135" fill="#54d9fc"/>
<polygon points="169.2,138.7 175.4,133.3 168.6,128.7 162.4,134" fill="#53ddfb"/>
<polygon points="136.6,145.7 143.1,140.3 136.5,136.2 130.1,141.5" fill="#51bdfb"/>
<polygon points="149.8,144.8 156.1,139.4 149.4,135 143.1,140.3" fill="#53c6fb"/>
<polygon points="162.9,144.2 169.2,138.7 162.4,134 156.1,139.4" fill="#54cdfc"/>
<polygon points="143.3,150.3 149.8,144.8 143.1,140.3 136.6,145.7" fill="#4fb0fa"/>
<polygon points="156.5,149.7 162.9,144.2 156.1,139.4 149.8,144.8" fill="#50b7fb"/>
<polygon points="150.1,155.3 156.5,149.7 149.8,144.8 143.3,150.3" fill="#4b9ef8"/>
</g>
<g font-family='"Liberation Sans","DejaVu Sans",sans-serif' fill="#505050">
<text x="157.6" y="245.2" font-size="5.5" text-anchor="middle" textLength="2.63" lengthAdjust="spacingAndGlyphs">6</text>
<text x="175.9" y="236.4" font-size="5.5" text-anchor="middle" textLength="2.63" lengthAdjust="spacingAndGlyphs">7</text>
<text x="194.1" y="227.6" font-size="5.5" text-anchor="middle" textLength="2.63" lengthAdjust="spacingAndGlyphs">8</text>
<text x="212.4" y="218.7" font-size="5.5" text-anchor="middle" textLength="2.63" lengthAdjust="spacingAndGlyphs">9</text>
<text x="229.1" y="209" font-size="5.5" text-anchor="middle" textLength="5.26" lengthAdjust="spacingAndGlyphs">10</text>
<text x="247.4" y="200.2" font-size="5.5" text-anchor="middle" textLength="5.26" lengthAdjust="spacingAndGlyphs">11</text>
<text x="265.6" y="191.4" font-size="5.5" text-anchor="middle" textLength="5.26" lengthAdjust="spacingAndGlyphs">12</text>
<text x="146.6" y="244" font-size="5.5" text-anchor="end" textLength="11.83" lengthAdjust="spacingAndGlyphs">1,100</text>
<text x="119.2" y="230.8" font-size="5.5" text-anchor="end" textLength="11.83" lengthAdjust="spacingAndGlyphs">1,300</text>
<text x="91.8" y="217.5" font-size="5.5" text-anchor="end" textLength="11.83" lengthAdjust="spacingAndGlyphs">1,500</text>
<text x="64.4" y="204.3" font-size="5.5" text-anchor="end" textLength="11.83" lengthAdjust="spacingAndGlyphs">1,700</text>
<text x="37" y="191.1" font-size="5.5" text-anchor="end" textLength="11.83" lengthAdjust="spacingAndGlyphs">1,900</text>
<text x="34.5" y="128.6" font-size="5.5" text-anchor="end" textLength="6.57" lengthAdjust="spacingAndGlyphs">0.0</text>
<text x="33.5" y="110" font-size="5.5" text-anchor="end" textLength="6.57" lengthAdjust="spacingAndGlyphs">0.5</text>
<text x="32.6" y="91.5" font-size="5.5" text-anchor="end" textLength="6.57" lengthAdjust="spacingAndGlyphs">1.0</text>
<text x="31.7" y="72.9" font-size="5.5" text-anchor="end" textLength="6.57" lengthAdjust="spacingAndGlyphs">1.5</text>
<text x="30.8" y="54.4" font-size="5.5" text-anchor="end" textLength="6.57" lengthAdjust="spacingAndGlyphs">2.0</text>
<text x="29.9" y="35.8" font-size="5.5" text-anchor="end" textLength="6.57" lengthAdjust="spacingAndGlyphs">2.5</text>
</g>
</g>
<g font-family='"Liberation Serif","DejaVu Serif",serif' font-weight="bold" fill="#111" stroke="#111" stroke-width="0.12">
<text transform="translate(11.4,168.7) rotate(-90.00)" font-size="10.8" textLength="121" lengthAdjust="spacingAndGlyphs">Splashing density (kg·m<tspan font-size="62%" dy="-0.6em">−2</tspan><tspan dy="0.372em">·s</tspan><tspan font-size="62%" dy="-0.6em">−1</tspan><tspan dy="0.372em">)</tspan></text>
<text transform="translate(23.3,208.3) rotate(26.25)" font-size="10.8" textLength="113.7" lengthAdjust="spacingAndGlyphs">Oxygen lance height (mm)</text>
<text transform="translate(157.4,260.2) rotate(-25.55)" font-size="10.8" textLength="125.7" lengthAdjust="spacingAndGlyphs">Amount of remained slag (%)</text>
</g>
<g transform="translate(271.5,-1.16) scale(0.9905)">
<path d="M37.7,126.7 L150,90.7 L262.5,126.7 M36.7,108.1 L150,74.1 L263.4,108.1 M35.8,89.6 L150,57.4 L264.3,89.6 M34.9,71 L150,40.7 L265.2,71 M34,52.5 L150,24 L266.1,52.5 M33.1,33.9 L150,7.4 L267,33.9 M56.4,120.7 L52.6,29.5 M75.1,114.7 L72.1,25.1 M93.8,108.7 L91.6,20.6 M112.6,102.7 L111.1,16.2 M131.3,96.7 L130.5,11.8 M150,143.2 L150,7.4 M259.6,184.7 L267,33.9 M234.4,117.7 L237.8,27.3 M206.3,108.7 L208.5,20.6 M178.1,99.7 L179.3,14" fill="none" stroke="#2c2c2c" stroke-width="0.6"/>
<path d="M40.5,184.7 L33.1,33.9" fill="none" stroke="#222" stroke-width="0.7"/>
<polygon points="40.5,184.7 150,143.2 259.6,184.7 150.1,237.6" fill="#666666" stroke="#333" stroke-width="0.5"/>
<polyline points="61.6,176.7 63.2,177.5 64.8,178.2 66.4,179 68.1,179.7 69.1,180.2 70.5,180.9 72.1,181.6 73.8,182.4 75.5,183.2 77.1,183.9 78.8,184.7 80.5,185.5 82.1,186.3 83.8,187.1 85.5,187.8 87.2,188.6 89,189.4 90.7,190.2 92.4,191 94.1,191.8 95.9,192.7 97.6,193.5 99.4,194.3 101.1,195.1 102.9,195.9 104.7,196.8 106.5,197.6 108.2,198.4 110,199.3 111.8,200.1 113.7,200.9 115.5,201.8 117.3,202.6 119.1,203.5 121,204.4 122.8,205.2 124.7,206.1 126.6,207 128.4,207.8 130.3,208.7 132.2,209.6 134.1,210.5 136,211.4 137.9,212.3 139.9,213.2 141.8,214.1 143.7,215 145.7,215.9 147.6,216.8 149.6,217.7 151.6,218.6 153.6,219.6 155.5,220.5 157.5,221.4 159.6,222.4 161.6,223.3 163.6,224.3 165.6,225.2 167.7,226.2 169.7,227.1 170.8,227.6" fill="none" stroke="#2fccd5" stroke-width="1.2"/>
<polyline points="80.3,169.6 82,170.3 83.7,171 85.5,171.7 87.2,172.4 88.9,173.1 90.3,173.6 91.5,174.1 93.3,174.8 95,175.5 96.8,176.2 98.5,176.9 100.3,177.7 102.1,178.4 103.9,179.1 105.7,179.8 107.5,180.5 109.3,181.2 110.2,181.6 112,182.3 113.9,183.1 115.7,183.8 117.6,184.5 119.4,185.3 121.3,186 123.1,186.8 125,187.5 126.9,188.2 128.8,189 129.8,189.4 131.7,190.1 133.6,190.9 135.5,191.6 137.5,192.4 139.4,193.2 141.4,193.9 143.3,194.7 145.3,195.5 146.7,196 148.3,196.6 150.3,197.4 152.3,198.2 154.3,199 156.3,199.7 158.3,200.5 160.4,201.3 162.4,202.1 163.5,202.5 165.5,203.3 167.6,204.1 169.7,204.9 171.8,205.7 173.9,206.5 176,207.3 178.1,208.1 179.4,208.6 181.3,209.4 183.5,210.2 185.6,211 187.8,211.8 190,212.7 192.2,213.5 194.4,214.3 195.5,214.7 196.6,215.1" fill="none" stroke="#2cd785" stroke-width="1.2"/>
<polyline points="99.6,162.3 101.4,162.9 103.2,163.6 105,164.2 106.4,164.7 107.7,165.2 109.5,165.8 111.4,166.4 113.2,167.1 115,167.7 116.3,168.1 117.8,168.7 119.7,169.3 121.6,170 123.4,170.6 125.3,171.3 126.3,171.6 128.2,172.2 130.1,172.9 132,173.5 133.9,174.2 135.3,174.6 136.9,175.2 138.8,175.8 140.8,176.5 142.7,177.2 144.4,177.7 145.7,178.2 147.7,178.8 149.7,179.5 151.7,180.2 153.3,180.7 154.7,181.2 156.8,181.8 158.8,182.5 160.9,183.2 162,183.5 164,184.2 166,184.9 168.1,185.6 170.2,186.2 171.3,186.6 173.4,187.3 175.5,188 177.6,188.6 178.7,189 180.8,189.7 183,190.4 185.2,191.1 186.7,191.5 188.4,192.1 190.6,192.8 192.8,193.5 194.6,194 196.2,194.5 198.4,195.2 200.6,195.9 202.3,196.4 204,197 206.3,197.7 208.6,198.4 209.8,198.7 212,199.4 214.3,200.1 216.6,200.8 217.8,201.2 220.1,201.9 222.5,202.6 222.5,202.6" fill="none" stroke="#3ad43a" stroke-width="1.2"/>
<polyline points="116.7,155.9 118.6,156.4 120.3,157 121.4,157.3 123.2,157.9 125.1,158.5 127,159 128,159.3 129.9,159.9 131.8,160.5 133.7,161.1 134.7,161.4 136.6,162 138.6,162.5 140.5,163.1 141.5,163.4 143.5,164 145.5,164.6 147.4,165.2 148.5,165.5 150.5,166.1 152.5,166.7 153.9,167.1 155.5,167.6 157.5,168.2 159.6,168.8 160.6,169.1 162.7,169.6 164.7,170.2 166.5,170.8 167.9,171.1 170,171.7 172.1,172.3 173.1,172.6 175.2,173.2 177.4,173.8 178.7,174.2 180.6,174.8 182.7,175.4 184.7,175.9 186,176.3 188.1,176.9 190.3,177.5 191.4,177.8 193.6,178.4 195.9,179 197,179.3 199.2,179.9 201.4,180.5 202.6,180.8 204.8,181.4 207.1,182 208.2,182.3 210.5,182.9 212.8,183.5 214,183.8 216.3,184.4 218.6,185 219.8,185.4 222.1,186 223.9,186.4 225.7,186.9 228,187.5 229.2,187.8 231.6,188.4 234,189 235.2,189.3 237.7,189.9 239.5,190.4 241.3,190.8 243.8,191.4 245,191.7 245,191.7" fill="none" stroke="#8ad832" stroke-width="1.2"/>
<polyline points="133.4,149.5 134.4,149.8 136.3,150.3 138.3,150.8 139.2,151.1 141.2,151.6 143.2,152.2 144.4,152.5 146.1,153 148.1,153.5 149.7,153.9 151.1,154.3 153.1,154.8 155,155.3 156.1,155.6 158.2,156.1 160.1,156.7 161.2,156.9 163.3,157.5 165.2,158 166.4,158.3 168.5,158.8 170.3,159.3 171.6,159.6 173.7,160.1 175.3,160.5 176.9,160.9 179,161.5 180.2,161.8 182.2,162.3 184.4,162.8 185.4,163.1 187.6,163.6 189.8,164.2 190.9,164.4 193.1,165 194.6,165.3 196.4,165.8 198.6,166.3 199.7,166.6 201.9,167.1 203.9,167.5 205.3,167.9 207.6,168.4 208.7,168.7 211,169.2 213,169.7 214.4,170 216.7,170.6 217.9,170.8 220.2,171.3 221.8,171.7 223.7,172.1 226.1,172.7 227.3,172.9 229.6,173.5 230.5,173.6" fill="none" stroke="#d5d036" stroke-width="1.2"/>
<circle cx="150.1" cy="237.6" r="0.9" fill="#000"/>
<circle cx="168.4" cy="228.8" r="0.9" fill="#000"/>
<circle cx="186.6" cy="220" r="0.9" fill="#000"/>
<circle cx="204.9" cy="211.1" r="0.9" fill="#000"/>
<circle cx="223.1" cy="202.3" r="0.9" fill="#000"/>
<circle cx="241.4" cy="193.5" r="0.9" fill="#000"/>
<circle cx="259.6" cy="184.7" r="0.9" fill="#000"/>
<circle cx="150.1" cy="237.6" r="0.9" fill="#000"/>
<circle cx="122.7" cy="224.4" r="0.9" fill="#000"/>
<circle cx="95.3" cy="211.1" r="0.9" fill="#000"/>
<circle cx="67.9" cy="197.9" r="0.9" fill="#000"/>
<circle cx="40.5" cy="184.7" r="0.9" fill="#000"/>
<circle cx="37.7" cy="126.7" r="0.9" fill="#000"/>
<circle cx="36.7" cy="108.1" r="0.9" fill="#000"/>
<circle cx="35.8" cy="89.6" r="0.9" fill="#000"/>
<circle cx="34.9" cy="71" r="0.9" fill="#000"/>
<circle cx="34" cy="52.5" r="0.9" fill="#000"/>
<circle cx="33.1" cy="33.9" r="0.9" fill="#000"/>
<g stroke="#000" stroke-opacity="0.66" stroke-width="0.46" stroke-linejoin="round">
<polygon points="149.6,23.9 154.7,20 150,18.4 144.9,22.3" fill="#fcb94d"/>
<polygon points="144.3,27.8 149.6,23.9 144.9,22.3 139.6,26.2" fill="#fcd351"/>
<polygon points="154.3,25.6 159.5,21.7 154.7,20 149.6,23.9" fill="#fcbf4e"/>
<polygon points="139.1,31.8 144.3,27.8 139.6,26.2 134.4,30.1" fill="#fbe854"/>
<polygon points="149.1,29.5 154.3,25.6 149.6,23.9 144.3,27.8" fill="#fcd852"/>
<polygon points="159.1,27.3 164.3,23.4 159.5,21.7 154.3,25.6" fill="#fcc450"/>
<polygon points="133.7,35.8 139.1,31.8 134.4,30.1 129,34.1" fill="#f6f455"/>
<polygon points="143.8,33.4 149.1,29.5 144.3,27.8 139.1,31.8" fill="#faec54"/>
<polygon points="153.9,31.2 159.1,27.3 154.3,25.6 149.1,29.5" fill="#fcdc52"/>
<polygon points="164,29 169.2,25.1 164.3,23.4 159.1,27.3" fill="#fcc950"/>
<polygon points="128.4,39.8 133.7,35.8 129,34.1 123.7,38.2" fill="#ebf855"/>
<polygon points="138.5,37.4 143.8,33.4 139.1,31.8 133.7,35.8" fill="#f5f555"/>
<polygon points="148.6,35.1 153.9,31.2 149.1,29.5 143.8,33.4" fill="#faef55"/>
<polygon points="158.7,32.9 164,29 159.1,27.3 153.9,31.2" fill="#fce053"/>
<polygon points="168.9,30.7 174.1,26.8 169.2,25.1 164,29" fill="#fcce51"/>
<polygon points="122.9,43.9 128.4,39.8 123.7,38.2 118.3,42.2" fill="#d1fa55"/>
<polygon points="133.1,41.4 138.5,37.4 133.7,35.8 128.4,39.8" fill="#e7f955"/>
<polygon points="143.3,39.1 148.6,35.1 143.8,33.4 138.5,37.4" fill="#f4f655"/>
<polygon points="153.4,36.8 158.7,32.9 153.9,31.2 148.6,35.1" fill="#f9f155"/>
<polygon points="163.6,34.6 168.9,30.7 164,29 158.7,32.9" fill="#fbe353"/>
<polygon points="173.8,32.4 179,28.6 174.1,26.8 168.9,30.7" fill="#fcd351"/>
<polygon points="117.4,48 122.9,43.9 118.3,42.2 112.8,46.4" fill="#b2fa52"/>
<polygon points="127.7,45.5 133.1,41.4 128.4,39.8 122.9,43.9" fill="#cdfa55"/>
<polygon points="137.9,43.1 143.3,39.1 138.5,37.4 133.1,41.4" fill="#e3f955"/>
<polygon points="148.1,40.8 153.4,36.8 148.6,35.1 143.3,39.1" fill="#f3f755"/>
<polygon points="158.3,38.5 163.6,34.6 158.7,32.9 153.4,36.8" fill="#f8f255"/>
<polygon points="168.6,36.3 173.8,32.4 168.9,30.7 163.6,34.6" fill="#fbe754"/>
<polygon points="178.8,34.2 184,30.3 179,28.6 173.8,32.4" fill="#fcd852"/>
<polygon points="111.9,52.1 117.4,48 112.8,46.4 107.3,50.5" fill="#94f950"/>
<polygon points="122.2,49.6 127.7,45.5 122.9,43.9 117.4,48" fill="#aefa52"/>
<polygon points="132.4,47.2 137.9,43.1 133.1,41.4 127.7,45.5" fill="#c9fa55"/>
<polygon points="142.7,44.8 148.1,40.8 143.3,39.1 137.9,43.1" fill="#dff955"/>
<polygon points="153,42.5 158.3,38.5 153.4,36.8 148.1,40.8" fill="#f2f855"/>
<polygon points="163.3,40.2 168.6,36.3 163.6,34.6 158.3,38.5" fill="#f7f355"/>
<polygon points="173.6,38.1 178.8,34.2 173.8,32.4 168.6,36.3" fill="#fbea54"/>
<polygon points="183.9,36 189.1,32.1 184,30.3 178.8,34.2" fill="#fcdc52"/>
<polygon points="106.3,56.3 111.9,52.1 107.3,50.5 101.7,54.7" fill="#77f74f"/>
<polygon points="116.6,53.8 122.2,49.6 117.4,48 111.9,52.1" fill="#91f950"/>
<polygon points="126.9,51.3 132.4,47.2 127.7,45.5 122.2,49.6" fill="#aafa51"/>
<polygon points="137.3,48.9 142.7,44.8 137.9,43.1 132.4,47.2" fill="#c5fa54"/>
<polygon points="147.6,46.5 153,42.5 148.1,40.8 142.7,44.8" fill="#dbf955"/>
<polygon points="157.9,44.2 163.3,40.2 158.3,38.5 153,42.5" fill="#f0f855"/>
<polygon points="168.3,42 173.6,38.1 168.6,36.3 163.3,40.2" fill="#f6f455"/>
<polygon points="178.6,39.8 183.9,36 178.8,34.2 173.6,38.1" fill="#faee55"/>
<polygon points="189,37.7 194.2,33.9 189.1,32.1 183.9,36" fill="#fce053"/>
<polygon points="100.7,60.5 106.3,56.3 101.7,54.7 96,58.9" fill="#60f651"/>
<polygon points="111,57.9 116.6,53.8 111.9,52.1 106.3,56.3" fill="#74f74f"/>
<polygon points="121.4,55.4 126.9,51.3 122.2,49.6 116.6,53.8" fill="#8df94f"/>
<polygon points="131.8,53 137.3,48.9 132.4,47.2 126.9,51.3" fill="#a7fa51"/>
<polygon points="142.1,50.6 147.6,46.5 142.7,44.8 137.3,48.9" fill="#c1fa54"/>
<polygon points="152.5,48.2 157.9,44.2 153,42.5 147.6,46.5" fill="#d8f955"/>
<polygon points="162.9,46 168.3,42 163.3,40.2 157.9,44.2" fill="#ecf855"/>
<polygon points="173.3,43.8 178.6,39.8 173.6,38.1 168.3,42" fill="#f5f555"/>
<polygon points="183.7,41.6 189,37.7 183.9,36 178.6,39.8" fill="#faf055"/>
<polygon points="194.1,39.6 199.3,35.7 194.2,33.9 189,37.7" fill="#fbe453"/>
<polygon points="95,64.8 100.7,60.5 96,58.9 90.3,63.2" fill="#57f65b"/>
<polygon points="105.4,62.2 111,57.9 106.3,56.3 100.7,60.5" fill="#5ff652"/>
<polygon points="115.8,59.6 121.4,55.4 116.6,53.8 111,57.9" fill="#71f74e"/>
<polygon points="126.2,57.1 131.8,53 126.9,51.3 121.4,55.4" fill="#8af94f"/>
<polygon points="136.6,54.6 142.1,50.6 137.3,48.9 131.8,53" fill="#a3fa50"/>
<polygon points="147.1,52.3 152.5,48.2 147.6,46.5 142.1,50.6" fill="#bdfa53"/>
<polygon points="157.5,50 162.9,46 157.9,44.2 152.5,48.2" fill="#d4fa55"/>
<polygon points="168,47.7 173.3,43.8 168.3,42 162.9,46" fill="#e8f955"/>
<polygon points="178.4,45.5 183.7,41.6 178.6,39.8 173.3,43.8" fill="#f4f655"/>
<polygon points="188.9,43.4 194.1,39.6 189,37.7 183.7,41.6" fill="#f9f155"/>
<polygon points="199.3,41.4 204.5,37.6 199.3,35.7 194.1,39.6" fill="#fbe754"/>
<polygon points="89.2,69.1 95,64.8 90.3,63.2 84.6,67.5" fill="#50f667"/>
<polygon points="99.7,66.4 105.4,62.2 100.7,60.5 95,64.8" fill="#57f65c"/>
<polygon points="110.1,63.8 115.8,59.6 111,57.9 105.4,62.2" fill="#5ef653"/>
<polygon points="120.6,61.3 126.2,57.1 121.4,55.4 115.8,59.6" fill="#6ff74e"/>
<polygon points="131.1,58.8 136.6,54.6 131.8,53 126.2,57.1" fill="#87f84f"/>
<polygon points="141.6,56.4 147.1,52.3 142.1,50.6 136.6,54.6" fill="#9ffa50"/>
<polygon points="152.1,54 157.5,50 152.5,48.2 147.1,52.3" fill="#b8fa53"/>
<polygon points="162.6,51.7 168,47.7 162.9,46 157.5,50" fill="#d0fa55"/>
<polygon points="173.1,49.5 178.4,45.5 173.3,43.8 168,47.7" fill="#e4f955"/>
<polygon points="183.6,47.3 188.9,43.4 183.7,41.6 178.4,45.5" fill="#f3f755"/>
<polygon points="194.1,45.3 199.3,41.4 194.1,39.6 188.9,43.4" fill="#f7f355"/>
<polygon points="204.6,43.2 209.8,39.4 204.5,37.6 199.3,41.4" fill="#faeb54"/>
<polygon points="83.4,73.5 89.2,69.1 84.6,67.5 78.8,71.9" fill="#4df87e"/>
<polygon points="93.9,70.8 99.7,66.4 95,64.8 89.2,69.1" fill="#50f668"/>
<polygon points="104.4,68.1 110.1,63.8 105.4,62.2 99.7,66.4" fill="#56f65d"/>
<polygon points="114.9,65.5 120.6,61.3 115.8,59.6 110.1,63.8" fill="#5ef653"/>
<polygon points="125.5,63 131.1,58.8 126.2,57.1 120.6,61.3" fill="#6cf74e"/>
<polygon points="136,60.5 141.6,56.4 136.6,54.6 131.1,58.8" fill="#84f84f"/>
<polygon points="146.5,58.1 152.1,54 147.1,52.3 141.6,56.4" fill="#9cfa50"/>
<polygon points="157.1,55.8 162.6,51.7 157.5,50 152.1,54" fill="#b4fa52"/>
<polygon points="167.6,53.5 173.1,49.5 168,47.7 162.6,51.7" fill="#ccfa55"/>
<polygon points="178.2,51.3 183.6,47.3 178.4,45.5 173.1,49.5" fill="#e0f955"/>
<polygon points="188.8,49.2 194.1,45.3 188.9,43.4 183.6,47.3" fill="#f2f855"/>
<polygon points="199.4,47.1 204.6,43.2 199.3,41.4 194.1,45.3" fill="#f6f455"/>
<polygon points="209.9,45.1 215.1,41.3 209.8,39.4 204.6,43.2" fill="#faef55"/>
<polygon points="77.5,77.9 83.4,73.5 78.8,71.9 72.9,76.3" fill="#4bfa96"/>
<polygon points="88.1,75.1 93.9,70.8 89.2,69.1 83.4,73.5" fill="#4df87f"/>
<polygon points="98.6,72.4 104.4,68.1 99.7,66.4 93.9,70.8" fill="#4ff66a"/>
<polygon points="109.2,69.8 114.9,65.5 110.1,63.8 104.4,68.1" fill="#55f65d"/>
<polygon points="119.8,67.2 125.5,63 120.6,61.3 114.9,65.5" fill="#5df654"/>
<polygon points="130.4,64.7 136,60.5 131.1,58.8 125.5,63" fill="#69f64e"/>
<polygon points="141,62.2 146.5,58.1 141.6,56.4 136,60.5" fill="#81f84f"/>
<polygon points="151.6,59.8 157.1,55.8 152.1,54 146.5,58.1" fill="#98f950"/>
<polygon points="162.2,57.5 167.6,53.5 162.6,51.7 157.1,55.8" fill="#b0fa52"/>
<polygon points="172.8,55.3 178.2,51.3 173.1,49.5 167.6,53.5" fill="#c8fa54"/>
<polygon points="183.4,53.1 188.8,49.2 183.6,47.3 178.2,51.3" fill="#dbf955"/>
<polygon points="194.1,51 199.4,47.1 194.1,45.3 188.8,49.2" fill="#eef855"/>
<polygon points="204.7,49 209.9,45.1 204.6,43.2 199.4,47.1" fill="#f5f555"/>
<polygon points="215.3,47 220.5,43.2 215.1,41.3 209.9,45.1" fill="#f9f155"/>
<polygon points="71.6,82.3 77.5,77.9 72.9,76.3 67,80.7" fill="#4bf9b2"/>
<polygon points="82.2,79.5 88.1,75.1 83.4,73.5 77.5,77.9" fill="#4bfa97"/>
<polygon points="92.8,76.8 98.6,72.4 93.9,70.8 88.1,75.1" fill="#4df881"/>
<polygon points="103.4,74.1 109.2,69.8 104.4,68.1 98.6,72.4" fill="#4ff76b"/>
<polygon points="114,71.4 119.8,67.2 114.9,65.5 109.2,69.8" fill="#55f65e"/>
<polygon points="124.7,68.9 130.4,64.7 125.5,63 119.8,67.2" fill="#5cf655"/>
<polygon points="135.3,66.4 141,62.2 136,60.5 130.4,64.7" fill="#66f64e"/>
<polygon points="146,64 151.6,59.8 146.5,58.1 141,62.2" fill="#7ef84f"/>
<polygon points="156.7,61.6 162.2,57.5 157.1,55.8 151.6,59.8" fill="#95f950"/>
<polygon points="167.3,59.3 172.8,55.3 167.6,53.5 162.2,57.5" fill="#acfa51"/>
<polygon points="178,57.1 183.4,53.1 178.2,51.3 172.8,55.3" fill="#c3fa54"/>
<polygon points="188.7,55 194.1,51 188.8,49.2 183.4,53.1" fill="#d7f955"/>
<polygon points="199.4,52.9 204.7,49 199.4,47.1 194.1,51" fill="#e9f855"/>
<polygon points="65.6,86.8 71.6,82.3 67,80.7 61,85.2" fill="#4bf8cd"/>
<polygon points="210.1,50.9 215.3,47 209.9,45.1 204.7,49" fill="#f4f655"/>
<polygon points="220.8,48.9 226,45.1 220.5,43.2 215.3,47" fill="#f8f255"/>
<polygon points="76.3,84 82.2,79.5 77.5,77.9 71.6,82.3" fill="#4bf9b2"/>
<polygon points="86.9,81.2 92.8,76.8 88.1,75.1 82.2,79.5" fill="#4bfa97"/>
<polygon points="97.6,78.4 103.4,74.1 98.6,72.4 92.8,76.8" fill="#4df882"/>
<polygon points="108.3,75.7 114,71.4 109.2,69.8 103.4,74.1" fill="#4ff76d"/>
<polygon points="118.9,73.1 124.7,68.9 119.8,67.2 114,71.4" fill="#54f65f"/>
<polygon points="129.6,70.6 135.3,66.4 130.4,64.7 124.7,68.9" fill="#5bf656"/>
<polygon points="140.4,68.1 146,64 141,62.2 135.3,66.4" fill="#63f64e"/>
<polygon points="151.1,65.7 156.7,61.6 151.6,59.8 146,64" fill="#7bf84f"/>
<polygon points="161.8,63.4 167.3,59.3 162.2,57.5 156.7,61.6" fill="#91f950"/>
<polygon points="172.5,61.1 178,57.1 172.8,55.3 167.3,59.3" fill="#a8fa51"/>
<polygon points="183.3,58.9 188.7,55 183.4,53.1 178,57.1" fill="#befa53"/>
<polygon points="59.6,91.4 65.6,86.8 61,85.2 55,89.8" fill="#4cf4e2"/>
<polygon points="194,56.8 199.4,52.9 194.1,51 188.7,55" fill="#d3fa55"/>
<polygon points="204.8,54.8 210.1,50.9 204.7,49 199.4,52.9" fill="#e5f955"/>
<polygon points="215.5,52.8 220.8,48.9 215.3,47 210.1,50.9" fill="#f3f755"/>
<polygon points="70.3,88.4 76.3,84 71.6,82.3 65.6,86.8" fill="#4bf8ce"/>
<polygon points="226.3,50.8 231.5,47 226,45.1 220.8,48.9" fill="#f7f355"/>
<polygon points="81,85.6 86.9,81.2 82.2,79.5 76.3,84" fill="#4bf9b3"/>
<polygon points="91.7,82.8 97.6,78.4 92.8,76.8 86.9,81.2" fill="#4bfa98"/>
<polygon points="102.4,80.1 108.3,75.7 103.4,74.1 97.6,78.4" fill="#4df883"/>
<polygon points="113.2,77.4 118.9,73.1 114,71.4 108.3,75.7" fill="#4ff76e"/>
<polygon points="123.9,74.9 129.6,70.6 124.7,68.9 118.9,73.1" fill="#54f65f"/>
<polygon points="134.7,72.3 140.4,68.1 135.3,66.4 129.6,70.6" fill="#5bf657"/>
<polygon points="145.4,69.9 151.1,65.7 146,64 140.4,68.1" fill="#62f64e"/>
<polygon points="156.2,67.5 161.8,63.4 156.7,61.6 151.1,65.7" fill="#78f74f"/>
<polygon points="167,65.2 172.5,61.1 167.3,59.3 161.8,63.4" fill="#8ef94f"/>
<polygon points="177.8,63 183.3,58.9 178,57.1 172.5,61.1" fill="#a3fa50"/>
<polygon points="53.5,95.9 59.6,91.4 55,89.8 48.9,94.3" fill="#4eeff4"/>
<polygon points="188.6,60.8 194,56.8 188.7,55 183.3,58.9" fill="#bafa53"/>
<polygon points="199.4,58.7 204.8,54.8 199.4,52.9 194,56.8" fill="#cffa55"/>
<polygon points="64.2,93 70.3,88.4 65.6,86.8 59.6,91.4" fill="#4cf4e2"/>
<polygon points="210.2,56.7 215.5,52.8 210.1,50.9 204.8,54.8" fill="#e0f955"/>
<polygon points="221,54.7 226.3,50.8 220.8,48.9 215.5,52.8" fill="#f1f855"/>
<polygon points="231.8,52.8 237,49 231.5,47 226.3,50.8" fill="#f6f455"/>
<polygon points="75,90.1 81,85.6 76.3,84 70.3,88.4" fill="#4bf8ce"/>
<polygon points="85.7,87.3 91.7,82.8 86.9,81.2 81,85.6" fill="#4bf9b3"/>
<polygon points="96.5,84.5 102.4,80.1 97.6,78.4 91.7,82.8" fill="#4bfa99"/>
<polygon points="107.3,81.8 113.2,77.4 108.3,75.7 102.4,80.1" fill="#4df984"/>
<polygon points="118.1,79.2 123.9,74.9 118.9,73.1 113.2,77.4" fill="#4ff76f"/>
<polygon points="128.9,76.6 134.7,72.3 129.6,70.6 123.9,74.9" fill="#53f660"/>
<polygon points="139.7,74.1 145.4,69.9 140.4,68.1 134.7,72.3" fill="#5af658"/>
<polygon points="150.6,71.7 156.2,67.5 151.1,65.7 145.4,69.9" fill="#61f64f"/>
<polygon points="161.4,69.3 167,65.2 161.8,63.4 156.2,67.5" fill="#74f74f"/>
<polygon points="47.3,100.6 53.5,95.9 48.9,94.3 42.7,99" fill="#50e6fb"/>
<polygon points="172.3,67 177.8,63 172.5,61.1 167,65.2" fill="#8af94f"/>
<polygon points="183.1,64.8 188.6,60.8 183.3,58.9 177.8,63" fill="#9ffa50"/>
<polygon points="58.1,97.6 64.2,93 59.6,91.4 53.5,95.9" fill="#4ef0f4"/>
<polygon points="194,62.7 199.4,58.7 194,56.8 188.6,60.8" fill="#b5fa52"/>
<polygon points="204.9,60.6 210.2,56.7 204.8,54.8 199.4,58.7" fill="#cbfa55"/>
<polygon points="215.7,58.6 221,54.7 215.5,52.8 210.2,56.7" fill="#dcf955"/>
<polygon points="68.9,94.6 75,90.1 70.3,88.4 64.2,93" fill="#4cf4e1"/>
<polygon points="226.6,56.6 231.8,52.8 226.3,50.8 221,54.7" fill="#ecf855"/>
<polygon points="237.5,54.8 242.7,51 237,49 231.8,52.8" fill="#f4f655"/>
<polygon points="79.7,91.7 85.7,87.3 81,85.6 75,90.1" fill="#4bf8ce"/>
<polygon points="90.5,88.9 96.5,84.5 91.7,82.8 85.7,87.3" fill="#4bf9b4"/>
<polygon points="101.4,86.2 107.3,81.8 102.4,80.1 96.5,84.5" fill="#4bfa9a"/>
<polygon points="112.2,83.5 118.1,79.2 113.2,77.4 107.3,81.8" fill="#4df985"/>
<polygon points="123.1,80.9 128.9,76.6 123.9,74.9 118.1,79.2" fill="#4ff771"/>
<polygon points="134,78.4 139.7,74.1 134.7,72.3 128.9,76.6" fill="#53f661"/>
<polygon points="144.9,75.9 150.6,71.7 145.4,69.9 139.7,74.1" fill="#59f659"/>
<polygon points="155.8,73.5 161.4,69.3 156.2,67.5 150.6,71.7" fill="#60f650"/>
<polygon points="41.1,105.2 47.3,100.6 42.7,99 36.5,103.6" fill="#54d9fc"/>
<polygon points="166.7,71.2 172.3,67 167,65.2 161.4,69.3" fill="#71f74e"/>
<polygon points="177.6,68.9 183.1,64.8 177.8,63 172.3,67" fill="#87f84f"/>
<polygon points="51.9,102.2 58.1,97.6 53.5,95.9 47.3,100.6" fill="#50e6fb"/>
<polygon points="188.5,66.7 194,62.7 188.6,60.8 183.1,64.8" fill="#9bfa50"/>
<polygon points="199.4,64.6 204.9,60.6 199.4,58.7 194,62.7" fill="#b1fa52"/>
<polygon points="62.7,99.2 68.9,94.6 64.2,93 58.1,97.6" fill="#4ef0f4"/>
<polygon points="210.4,62.5 215.7,58.6 210.2,56.7 204.9,60.6" fill="#c6fa54"/>
<polygon points="221.3,60.5 226.6,56.6 221,54.7 215.7,58.6" fill="#d8f955"/>
<polygon points="232.2,58.6 237.5,54.8 231.8,52.8 226.6,56.6" fill="#e8f955"/>
<polygon points="243.2,56.8 248.3,53 242.7,51 237.5,54.8" fill="#f3f755"/>
<polygon points="73.6,96.3 79.7,91.7 75,90.1 68.9,94.6" fill="#4cf4e1"/>
<polygon points="84.5,93.4 90.5,88.9 85.7,87.3 79.7,91.7" fill="#4bf8ce"/>
<polygon points="95.4,90.6 101.4,86.2 96.5,84.5 90.5,88.9" fill="#4bf9b4"/>
<polygon points="106.3,87.9 112.2,83.5 107.3,81.8 101.4,86.2" fill="#4bfa9b"/>
<polygon points="117.2,85.2 123.1,80.9 118.1,79.2 112.2,83.5" fill="#4df986"/>
<polygon points="128.2,82.7 134,78.4 128.9,76.6 123.1,80.9" fill="#4ff772"/>
<polygon points="139.1,80.1 144.9,75.9 139.7,74.1 134,78.4" fill="#52f662"/>
<polygon points="150.1,77.7 155.8,73.5 150.6,71.7 144.9,75.9" fill="#59f659"/>
<polygon points="161,75.3 166.7,71.2 161.4,69.3 155.8,73.5" fill="#5ff651"/>
<polygon points="45.6,106.9 51.9,102.2 47.3,100.6 41.1,105.2" fill="#53dafc"/>
<polygon points="172,73 177.6,68.9 172.3,67 166.7,71.2" fill="#6ef74e"/>
<polygon points="183,70.8 188.5,66.7 183.1,64.8 177.6,68.9" fill="#83f84f"/>
<polygon points="56.5,103.8 62.7,99.2 58.1,97.6 51.9,102.2" fill="#50e6fb"/>
<polygon points="194,68.6 199.4,64.6 194,62.7 188.5,66.7" fill="#98f950"/>
<polygon points="204.9,66.5 210.4,62.5 204.9,60.6 199.4,64.6" fill="#acfa51"/>
<polygon points="215.9,64.5 221.3,60.5 215.7,58.6 210.4,62.5" fill="#c1fa54"/>
<polygon points="67.5,100.9 73.6,96.3 68.9,94.6 62.7,99.2" fill="#4ef0f3"/>
<polygon points="226.9,62.5 232.2,58.6 226.6,56.6 221.3,60.5" fill="#d3fa55"/>
<polygon points="237.9,60.6 243.2,56.8 237.5,54.8 232.2,58.6" fill="#e3f955"/>
<polygon points="248.9,58.8 254.1,55 248.3,53 243.2,56.8" fill="#f2f855"/>
<polygon points="78.4,97.9 84.5,93.4 79.7,91.7 73.6,96.3" fill="#4cf4e1"/>
<polygon points="89.4,95.1 95.4,90.6 90.5,88.9 84.5,93.4" fill="#4bf8cf"/>
<polygon points="100.3,92.3 106.3,87.9 101.4,86.2 95.4,90.6" fill="#4bf9b5"/>
<polygon points="111.3,89.6 117.2,85.2 112.2,83.5 106.3,87.9" fill="#4bfa9c"/>
<polygon points="122.3,87 128.2,82.7 123.1,80.9 117.2,85.2" fill="#4df987"/>
<polygon points="133.3,84.4 139.1,80.1 134,78.4 128.2,82.7" fill="#4ef773"/>
<polygon points="144.3,81.9 150.1,77.7 144.9,75.9 139.1,80.1" fill="#51f662"/>
<polygon points="155.3,79.5 161,75.3 155.8,73.5 150.1,77.7" fill="#58f65a"/>
<polygon points="166.3,77.2 172,73 166.7,71.2 161,75.3" fill="#5ef652"/>
<polygon points="177.4,74.9 183,70.8 177.6,68.9 172,73" fill="#6bf74e"/>
<polygon points="50.3,108.5 56.5,103.8 51.9,102.2 45.6,106.9" fill="#53dafc"/>
<polygon points="188.4,72.7 194,68.6 188.5,66.7 183,70.8" fill="#80f84f"/>
<polygon points="199.5,70.5 204.9,66.5 199.4,64.6 194,68.6" fill="#94f950"/>
<polygon points="61.2,105.5 67.5,100.9 62.7,99.2 56.5,103.8" fill="#50e7fb"/>
<polygon points="210.5,68.4 215.9,64.5 210.4,62.5 204.9,66.5" fill="#a8fa51"/>
<polygon points="221.6,66.4 226.9,62.5 221.3,60.5 215.9,64.5" fill="#bcfa53"/>
<polygon points="232.6,64.5 237.9,60.6 232.2,58.6 226.9,62.5" fill="#cffa55"/>
<polygon points="243.7,62.6 248.9,58.8 243.2,56.8 237.9,60.6" fill="#def955"/>
<polygon points="72.2,102.5 78.4,97.9 73.6,96.3 67.5,100.9" fill="#4df0f3"/>
<polygon points="254.7,60.8 259.9,57.1 254.1,55 248.9,58.8" fill="#edf855"/>
<polygon points="83.2,99.6 89.4,95.1 84.5,93.4 78.4,97.9" fill="#4cf4e1"/>
<polygon points="94.3,96.8 100.3,92.3 95.4,90.6 89.4,95.1" fill="#4bf8cf"/>
<polygon points="105.3,94.1 111.3,89.6 106.3,87.9 100.3,92.3" fill="#4bf9b6"/>
<polygon points="116.3,91.4 122.3,87 117.2,85.2 111.3,89.6" fill="#4bfa9d"/>
<polygon points="127.4,88.8 133.3,84.4 128.2,82.7 122.3,87" fill="#4cf988"/>
<polygon points="138.5,86.2 144.3,81.9 139.1,80.1 133.3,84.4" fill="#4ef775"/>
<polygon points="149.5,83.8 155.3,79.5 150.1,77.7 144.3,81.9" fill="#51f663"/>
<polygon points="160.6,81.4 166.3,77.2 161,75.3 155.3,79.5" fill="#57f65b"/>
<polygon points="171.7,79 177.4,74.9 172,73 166.3,77.2" fill="#5ef653"/>
<polygon points="182.8,76.8 188.4,72.7 183,70.8 177.4,74.9" fill="#68f64e"/>
<polygon points="55,110.2 61.2,105.5 56.5,103.8 50.3,108.5" fill="#53dbfb"/>
<polygon points="193.9,74.6 199.5,70.5 194,68.6 188.4,72.7" fill="#7cf84f"/>
<polygon points="205,72.4 210.5,68.4 204.9,66.5 199.5,70.5" fill="#90f94f"/>
<polygon points="216.1,70.4 221.6,66.4 215.9,64.5 210.5,68.4" fill="#a3fa50"/>
<polygon points="66,107.2 72.2,102.5 67.5,100.9 61.2,105.5" fill="#50e7fb"/>
<polygon points="227.3,68.4 232.6,64.5 226.9,62.5 221.6,66.4" fill="#b7fa53"/>
<polygon points="238.4,66.5 243.7,62.6 237.9,60.6 232.6,64.5" fill="#cafa55"/>
<polygon points="249.5,64.7 254.7,60.8 248.9,58.8 243.7,62.6" fill="#d9f955"/>
<polygon points="260.6,62.9 265.8,59.1 259.9,57.1 254.7,60.8" fill="#e8f955"/>
<polygon points="77.1,104.2 83.2,99.6 78.4,97.9 72.2,102.5" fill="#4df0f3"/>
<polygon points="88.1,101.4 94.3,96.8 89.4,95.1 83.2,99.6" fill="#4cf4e1"/>
<polygon points="99.2,98.6 105.3,94.1 100.3,92.3 94.3,96.8" fill="#4bf8cf"/>
<polygon points="110.3,95.8 116.3,91.4 111.3,89.6 105.3,94.1" fill="#4bf9b6"/>
<polygon points="121.4,93.2 127.4,88.8 122.3,87 116.3,91.4" fill="#4bfa9e"/>
<polygon points="132.6,90.6 138.5,86.2 133.3,84.4 127.4,88.8" fill="#4cf989"/>
<polygon points="143.7,88.1 149.5,83.8 144.3,81.9 138.5,86.2" fill="#4ef776"/>
<polygon points="154.8,85.6 160.6,81.4 155.3,79.5 149.5,83.8" fill="#50f664"/>
<polygon points="166,83.2 171.7,79 166.3,77.2 160.6,81.4" fill="#57f65c"/>
<polygon points="177.2,80.9 182.8,76.8 177.4,74.9 171.7,79" fill="#5df654"/>
<polygon points="188.3,78.7 193.9,74.6 188.4,72.7 182.8,76.8" fill="#65f64e"/>
<polygon points="199.5,76.5 205,72.4 199.5,70.5 193.9,74.6" fill="#79f74f"/>
<polygon points="59.7,111.8 66,107.2 61.2,105.5 55,110.2" fill="#53dbfb"/>
<polygon points="210.7,74.4 216.1,70.4 210.5,68.4 205,72.4" fill="#8cf94f"/>
<polygon points="221.8,72.4 227.3,68.4 221.6,66.4 216.1,70.4" fill="#9ffa50"/>
<polygon points="233,70.4 238.4,66.5 232.6,64.5 227.3,68.4" fill="#b2fa52"/>
<polygon points="244.2,68.5 249.5,64.7 243.7,62.6 238.4,66.5" fill="#c4fa54"/>
<polygon points="70.8,108.9 77.1,104.2 72.2,102.5 66,107.2" fill="#50e7fb"/>
<polygon points="255.4,66.7 260.6,62.9 254.7,60.8 249.5,64.7" fill="#d5fa55"/>
<polygon points="82,105.9 88.1,101.4 83.2,99.6 77.1,104.2" fill="#4df0f2"/>
<polygon points="93.1,103.1 99.2,98.6 94.3,96.8 88.1,101.4" fill="#4cf4e1"/>
<polygon points="104.3,100.3 110.3,95.8 105.3,94.1 99.2,98.6" fill="#4bf8cf"/>
<polygon points="115.4,97.6 121.4,93.2 116.3,91.4 110.3,95.8" fill="#4bf9b7"/>
<polygon points="126.6,95 132.6,90.6 127.4,88.8 121.4,93.2" fill="#4bfa9f"/>
<polygon points="137.8,92.4 143.7,88.1 138.5,86.2 132.6,90.6" fill="#4cf98a"/>
<polygon points="149,89.9 154.8,85.6 149.5,83.8 143.7,88.1" fill="#4ef877"/>
<polygon points="160.2,87.5 166,83.2 160.6,81.4 154.8,85.6" fill="#50f665"/>
<polygon points="171.4,85.1 177.2,80.9 171.7,79 166,83.2" fill="#56f65d"/>
<polygon points="182.7,82.8 188.3,78.7 182.8,76.8 177.2,80.9" fill="#5cf655"/>
<polygon points="193.9,80.6 199.5,76.5 193.9,74.6 188.3,78.7" fill="#62f64e"/>
<polygon points="205.1,78.5 210.7,74.4 205,72.4 199.5,76.5" fill="#75f74f"/>
<polygon points="216.4,76.4 221.8,72.4 216.1,70.4 210.7,74.4" fill="#88f84f"/>
<polygon points="64.5,113.5 70.8,108.9 66,107.2 59.7,111.8" fill="#53dcfb"/>
<polygon points="227.6,74.4 233,70.4 227.3,68.4 221.8,72.4" fill="#9afa50"/>
<polygon points="238.8,72.5 244.2,68.5 238.4,66.5 233,70.4" fill="#adfa51"/>
<polygon points="250.1,70.6 255.4,66.7 249.5,64.7 244.2,68.5" fill="#bffa53"/>
<polygon points="75.7,110.6 82,105.9 77.1,104.2 70.8,108.9" fill="#50e8fa"/>
<polygon points="86.9,107.7 93.1,103.1 88.1,101.4 82,105.9" fill="#4df0f2"/>
<polygon points="98.1,104.9 104.3,100.3 99.2,98.6 93.1,103.1" fill="#4cf4e1"/>
<polygon points="109.3,102.1 115.4,97.6 110.3,95.8 104.3,100.3" fill="#4bf8d0"/>
<polygon points="120.6,99.4 126.6,95 121.4,93.2 115.4,97.6" fill="#4bf9b7"/>
<polygon points="131.8,96.8 137.8,92.4 132.6,90.6 126.6,95" fill="#4bfaa0"/>
<polygon points="143.1,94.2 149,89.9 143.7,88.1 137.8,92.4" fill="#4cf98b"/>
<polygon points="154.4,91.8 160.2,87.5 154.8,85.6 149,89.9" fill="#4ef879"/>
<polygon points="165.6,89.4 171.4,85.1 166,83.2 160.2,87.5" fill="#50f667"/>
<polygon points="176.9,87 182.7,82.8 177.2,80.9 171.4,85.1" fill="#55f65e"/>
<polygon points="188.2,84.8 193.9,80.6 188.3,78.7 182.7,82.8" fill="#5bf656"/>
<polygon points="199.5,82.6 205.1,78.5 199.5,76.5 193.9,80.6" fill="#61f64f"/>
<polygon points="210.8,80.4 216.4,76.4 210.7,74.4 205.1,78.5" fill="#72f74f"/>
<polygon points="222.1,78.4 227.6,74.4 221.8,72.4 216.4,76.4" fill="#84f84f"/>
<polygon points="233.4,76.4 238.8,72.5 233,70.4 227.6,74.4" fill="#96f950"/>
<polygon points="244.7,74.5 250.1,70.6 244.2,68.5 238.8,72.5" fill="#a8fa51"/>
<polygon points="69.4,115.3 75.7,110.6 70.8,108.9 64.5,113.5" fill="#53dcfb"/>
<polygon points="80.6,112.3 86.9,107.7 82,105.9 75.7,110.6" fill="#50e8fa"/>
<polygon points="91.9,109.4 98.1,104.9 93.1,103.1 86.9,107.7" fill="#4df0f2"/>
<polygon points="103.2,106.6 109.3,102.1 104.3,100.3 98.1,104.9" fill="#4cf4e1"/>
<polygon points="114.5,103.9 120.6,99.4 115.4,97.6 109.3,102.1" fill="#4bf8d0"/>
<polygon points="125.8,101.2 131.8,96.8 126.6,95 120.6,99.4" fill="#4bf9b8"/>
<polygon points="137.1,98.6 143.1,94.2 137.8,92.4 131.8,96.8" fill="#4bfaa1"/>
<polygon points="148.5,96.1 154.4,91.8 149,89.9 143.1,94.2" fill="#4cf98c"/>
<polygon points="159.8,93.6 165.6,89.4 160.2,87.5 154.4,91.8" fill="#4ef87a"/>
<polygon points="171.1,91.3 176.9,87 171.4,85.1 165.6,89.4" fill="#50f669"/>
<polygon points="182.5,89 188.2,84.8 182.7,82.8 176.9,87" fill="#54f65f"/>
<polygon points="193.9,86.7 199.5,82.6 193.9,80.6 188.2,84.8" fill="#5af657"/>
<polygon points="205.2,84.5 210.8,80.4 205.1,78.5 199.5,82.6" fill="#60f650"/>
<polygon points="216.6,82.4 222.1,78.4 216.4,76.4 210.8,80.4" fill="#6ef74e"/>
<polygon points="228,80.4 233.4,76.4 227.6,74.4 222.1,78.4" fill="#80f84f"/>
<polygon points="239.3,78.5 244.7,74.5 238.8,72.5 233.4,76.4" fill="#92f950"/>
<polygon points="74.3,117 80.6,112.3 75.7,110.6 69.4,115.3" fill="#53ddfb"/>
<polygon points="85.6,114.1 91.9,109.4 86.9,107.7 80.6,112.3" fill="#50e8fa"/>
<polygon points="97,111.2 103.2,106.6 98.1,104.9 91.9,109.4" fill="#4df0f2"/>
<polygon points="108.3,108.4 114.5,103.9 109.3,102.1 103.2,106.6" fill="#4cf4e1"/>
<polygon points="119.7,105.7 125.8,101.2 120.6,99.4 114.5,103.9" fill="#4bf8d0"/>
<polygon points="131.1,103.1 137.1,98.6 131.8,96.8 125.8,101.2" fill="#4bf9b9"/>
<polygon points="142.5,100.5 148.5,96.1 143.1,94.2 137.1,98.6" fill="#4bfaa2"/>
<polygon points="153.9,98 159.8,93.6 154.4,91.8 148.5,96.1" fill="#4cf98d"/>
<polygon points="165.3,95.6 171.1,91.3 165.6,89.4 159.8,93.6" fill="#4ef87c"/>
<polygon points="176.7,93.2 182.5,89 176.9,87 171.1,91.3" fill="#4ff66a"/>
<polygon points="188.1,90.9 193.9,86.7 188.2,84.8 182.5,89" fill="#54f65f"/>
<polygon points="199.5,88.7 205.2,84.5 199.5,82.6 193.9,86.7" fill="#5af658"/>
<polygon points="211,86.5 216.6,82.4 210.8,80.4 205.2,84.5" fill="#5ff651"/>
<polygon points="222.4,84.5 228,80.4 222.1,78.4 216.6,82.4" fill="#6bf74e"/>
<polygon points="233.9,82.5 239.3,78.5 233.4,76.4 228,80.4" fill="#7df84f"/>
<polygon points="79.3,118.8 85.6,114.1 80.6,112.3 74.3,117" fill="#52defb"/>
<polygon points="90.7,115.8 97,111.2 91.9,109.4 85.6,114.1" fill="#4fe9fa"/>
<polygon points="102.1,113 108.3,108.4 103.2,106.6 97,111.2" fill="#4df0f1"/>
<polygon points="113.5,110.2 119.7,105.7 114.5,103.9 108.3,108.4" fill="#4cf4e1"/>
<polygon points="125,107.6 131.1,103.1 125.8,101.2 119.7,105.7" fill="#4bf8d0"/>
<polygon points="136.4,104.9 142.5,100.5 137.1,98.6 131.1,103.1" fill="#4bf9b9"/>
<polygon points="147.9,102.4 153.9,98 148.5,96.1 142.5,100.5" fill="#4bfaa3"/>
<polygon points="159.4,99.9 165.3,95.6 159.8,93.6 153.9,98" fill="#4cf98e"/>
<polygon points="170.8,97.5 176.7,93.2 171.1,91.3 165.3,95.6" fill="#4ef87d"/>
<polygon points="182.3,95.1 188.1,90.9 182.5,89 176.7,93.2" fill="#4ff76c"/>
<polygon points="193.8,92.9 199.5,88.7 193.9,86.7 188.1,90.9" fill="#53f660"/>
<polygon points="205.3,90.7 211,86.5 205.2,84.5 199.5,88.7" fill="#59f659"/>
<polygon points="216.8,88.6 222.4,84.5 216.6,82.4 211,86.5" fill="#5ef653"/>
<polygon points="228.3,86.5 233.9,82.5 228,80.4 222.4,84.5" fill="#67f64e"/>
<polygon points="84.3,120.5 90.7,115.8 85.6,114.1 79.3,118.8" fill="#52defb"/>
<polygon points="95.8,117.7 102.1,113 97,111.2 90.7,115.8" fill="#4fe9fa"/>
<polygon points="107.3,114.8 113.5,110.2 108.3,108.4 102.1,113" fill="#4df0f1"/>
<polygon points="118.8,112.1 125,107.6 119.7,105.7 113.5,110.2" fill="#4cf4e1"/>
<polygon points="130.3,109.4 136.4,104.9 131.1,103.1 125,107.6" fill="#4bf8d1"/>
<polygon points="141.8,106.8 147.9,102.4 142.5,100.5 136.4,104.9" fill="#4bf9ba"/>
<polygon points="153.4,104.3 159.4,99.9 153.9,98 147.9,102.4" fill="#4bfaa4"/>
<polygon points="164.9,101.8 170.8,97.5 165.3,95.6 159.4,99.9" fill="#4cf990"/>
<polygon points="176.5,99.4 182.3,95.1 176.7,93.2 170.8,97.5" fill="#4df87e"/>
<polygon points="188,97.1 193.8,92.9 188.1,90.9 182.3,95.1" fill="#4ff76e"/>
<polygon points="199.6,94.9 205.3,90.7 199.5,88.7 193.8,92.9" fill="#52f661"/>
<polygon points="211.1,92.7 216.8,88.6 211,86.5 205.3,90.7" fill="#58f65a"/>
<polygon points="222.7,90.6 228.3,86.5 222.4,84.5 216.8,88.6" fill="#5df654"/>
<polygon points="89.4,122.3 95.8,117.7 90.7,115.8 84.3,120.5" fill="#52dffb"/>
<polygon points="101,119.5 107.3,114.8 102.1,113 95.8,117.7" fill="#4fe9fa"/>
<polygon points="112.6,116.7 118.8,112.1 113.5,110.2 107.3,114.8" fill="#4df0f1"/>
<polygon points="124.1,114 130.3,109.4 125,107.6 118.8,112.1" fill="#4cf4e1"/>
<polygon points="135.7,111.3 141.8,106.8 136.4,104.9 130.3,109.4" fill="#4bf8d1"/>
<polygon points="147.3,108.7 153.4,104.3 147.9,102.4 141.8,106.8" fill="#4bf9ba"/>
<polygon points="158.9,106.2 164.9,101.8 159.4,99.9 153.4,104.3" fill="#4bfaa5"/>
<polygon points="170.5,103.8 176.5,99.4 170.8,97.5 164.9,101.8" fill="#4cfa91"/>
<polygon points="182.2,101.4 188,97.1 182.3,95.1 176.5,99.4" fill="#4df880"/>
<polygon points="193.8,99.1 199.6,94.9 193.8,92.9 188,97.1" fill="#4ff76f"/>
<polygon points="205.4,96.9 211.1,92.7 205.3,90.7 199.6,94.9" fill="#52f662"/>
<polygon points="217.1,94.8 222.7,90.6 216.8,88.6 211.1,92.7" fill="#57f65b"/>
<polygon points="94.6,124.2 101,119.5 95.8,117.7 89.4,122.3" fill="#52dffb"/>
<polygon points="106.2,121.3 112.6,116.7 107.3,114.8 101,119.5" fill="#4feafa"/>
<polygon points="117.9,118.5 124.1,114 118.8,112.1 112.6,116.7" fill="#4df0f0"/>
<polygon points="129.5,115.8 135.7,111.3 130.3,109.4 124.1,114" fill="#4cf4e1"/>
<polygon points="141.2,113.2 147.3,108.7 141.8,106.8 135.7,111.3" fill="#4bf8d1"/>
<polygon points="152.9,110.7 158.9,106.2 153.4,104.3 147.3,108.7" fill="#4bf9bb"/>
<polygon points="164.5,108.2 170.5,103.8 164.9,101.8 158.9,106.2" fill="#4bf9a6"/>
<polygon points="176.2,105.8 182.2,101.4 176.5,99.4 170.5,103.8" fill="#4bfa92"/>
<polygon points="187.9,103.4 193.8,99.1 188,97.1 182.2,101.4" fill="#4df881"/>
<polygon points="199.6,101.2 205.4,96.9 199.6,94.9 193.8,99.1" fill="#4ff771"/>
<polygon points="211.3,99 217.1,94.8 211.1,92.7 205.4,96.9" fill="#51f663"/>
<polygon points="99.9,126 106.2,121.3 101,119.5 94.6,124.2" fill="#52e0fb"/>
<polygon points="111.6,123.2 117.9,118.5 112.6,116.7 106.2,121.3" fill="#4feafa"/>
<polygon points="123.3,120.4 129.5,115.8 124.1,114 117.9,118.5" fill="#4df1f0"/>
<polygon points="135,117.8 141.2,113.2 135.7,111.3 129.5,115.8" fill="#4cf4e1"/>
<polygon points="146.7,115.1 152.9,110.7 147.3,108.7 141.2,113.2" fill="#4bf8d1"/>
<polygon points="158.5,112.6 164.5,108.2 158.9,106.2 152.9,110.7" fill="#4bf9bc"/>
<polygon points="170.2,110.2 176.2,105.8 170.5,103.8 164.5,108.2" fill="#4bf9a6"/>
<polygon points="182,107.8 187.9,103.4 182.2,101.4 176.2,105.8" fill="#4bfa93"/>
<polygon points="193.8,105.4 199.6,101.2 193.8,99.1 187.9,103.4" fill="#4df882"/>
<polygon points="205.5,103.2 211.3,99 205.4,96.9 199.6,101.2" fill="#4ff773"/>
<polygon points="105.2,127.9 111.6,123.2 106.2,121.3 99.9,126" fill="#52e0fb"/>
<polygon points="116.9,125.1 123.3,120.4 117.9,118.5 111.6,123.2" fill="#4febfa"/>
<polygon points="128.7,122.4 135,117.8 129.5,115.8 123.3,120.4" fill="#4df1f0"/>
<polygon points="140.5,119.7 146.7,115.1 141.2,113.2 135,117.8" fill="#4cf4e0"/>
<polygon points="152.3,117.1 158.5,112.6 152.9,110.7 146.7,115.1" fill="#4bf8d2"/>
<polygon points="164.2,114.6 170.2,110.2 164.5,108.2 158.5,112.6" fill="#4bf9bc"/>
<polygon points="176,112.2 182,107.8 176.2,105.8 170.2,110.2" fill="#4bf9a7"/>
<polygon points="187.8,109.8 193.8,105.4 187.9,103.4 182,107.8" fill="#4bfa94"/>
<polygon points="199.7,107.5 205.5,103.2 199.6,101.2 193.8,105.4" fill="#4df984"/>
<polygon points="110.5,129.8 116.9,125.1 111.6,123.2 105.2,127.9" fill="#52e1fb"/>
<polygon points="122.4,127 128.7,122.4 123.3,120.4 116.9,125.1" fill="#4febfa"/>
<polygon points="134.2,124.3 140.5,119.7 135,117.8 128.7,122.4" fill="#4df1ef"/>
<polygon points="146.1,121.7 152.3,117.1 146.7,115.1 140.5,119.7" fill="#4cf4e0"/>
<polygon points="158,119.1 164.2,114.6 158.5,112.6 152.3,117.1" fill="#4bf8d2"/>
<polygon points="169.9,116.6 176,112.2 170.2,110.2 164.2,114.6" fill="#4bf9bd"/>
<polygon points="181.8,114.2 187.8,109.8 182,107.8 176,112.2" fill="#4bf9a8"/>
<polygon points="193.7,111.8 199.7,107.5 193.8,105.4 187.8,109.8" fill="#4bfa95"/>
<polygon points="116,131.7 122.4,127 116.9,125.1 110.5,129.8" fill="#51e1fb"/>
<polygon points="127.9,128.9 134.2,124.3 128.7,122.4 122.4,127" fill="#4febfa"/>
<polygon points="139.8,126.3 146.1,121.7 140.5,119.7 134.2,124.3" fill="#4df1ef"/>
<polygon points="151.8,123.6 158,119.1 152.3,117.1 146.1,121.7" fill="#4cf4e0"/>
<polygon points="163.8,121.1 169.9,116.6 164.2,114.6 158,119.1" fill="#4bf8d2"/>
<polygon points="175.7,118.6 181.8,114.2 176,112.2 169.9,116.6" fill="#4bf9bd"/>
<polygon points="187.7,116.2 193.7,111.8 187.8,109.8 181.8,114.2" fill="#4bf9a9"/>
<polygon points="121.5,133.7 127.9,128.9 122.4,127 116,131.7" fill="#51e2fb"/>
<polygon points="133.5,130.9 139.8,126.3 134.2,124.3 127.9,128.9" fill="#4fecfa"/>
<polygon points="145.5,128.2 151.8,123.6 146.1,121.7 139.8,126.3" fill="#4df1ef"/>
<polygon points="157.5,125.7 163.8,121.1 158,119.1 151.8,123.6" fill="#4cf4e0"/>
<polygon points="169.6,123.1 175.7,118.6 169.9,116.6 163.8,121.1" fill="#4bf8d2"/>
<polygon points="181.6,120.7 187.7,116.2 181.8,114.2 175.7,118.6" fill="#4bf9be"/>
<polygon points="127,135.6 133.5,130.9 127.9,128.9 121.5,133.7" fill="#51e2fb"/>
<polygon points="139.1,132.9 145.5,128.2 139.8,126.3 133.5,130.9" fill="#4fecfa"/>
<polygon points="151.2,130.3 157.5,125.7 151.8,123.6 145.5,128.2" fill="#4df1ee"/>
<polygon points="163.4,127.7 169.6,123.1 163.8,121.1 157.5,125.7" fill="#4cf4e0"/>
<polygon points="175.5,125.2 181.6,120.7 175.7,118.6 169.6,123.1" fill="#4bf8d2"/>
<polygon points="132.7,137.6 139.1,132.9 133.5,130.9 127,135.6" fill="#51e3fb"/>
<polygon points="144.9,134.9 151.2,130.3 145.5,128.2 139.1,132.9" fill="#4eecfa"/>
<polygon points="157.1,132.3 163.4,127.7 157.5,125.7 151.2,130.3" fill="#4df1ee"/>
<polygon points="169.3,129.8 175.5,125.2 169.6,123.1 163.4,127.7" fill="#4cf4e0"/>
<polygon points="138.4,139.6 144.9,134.9 139.1,132.9 132.7,137.6" fill="#51e3fb"/>
<polygon points="150.7,137 157.1,132.3 151.2,130.3 144.9,134.9" fill="#4eedfa"/>
<polygon points="162.9,134.4 169.3,129.8 163.4,127.7 157.1,132.3" fill="#4df1ee"/>
<polygon points="144.2,141.7 150.7,137 144.9,134.9 138.4,139.6" fill="#51e4fb"/>
<polygon points="156.6,139 162.9,134.4 157.1,132.3 150.7,137" fill="#4eedfa"/>
<polygon points="150.1,143.8 156.6,139 150.7,137 144.2,141.7" fill="#51e4fb"/>
</g>
<g font-family='"Liberation Sans","DejaVu Sans",sans-serif' fill="#505050">
<text x="157.7" y="245.3" font-size="5.55" text-anchor="middle" textLength="2.66" lengthAdjust="spacingAndGlyphs">6</text>
<text x="175.9" y="236.5" font-size="5.55" text-anchor="middle" textLength="2.66" lengthAdjust="spacingAndGlyphs">7</text>
<text x="194.2" y="227.6" font-size="5.55" text-anchor="middle" textLength="2.66" lengthAdjust="spacingAndGlyphs">8</text>
<text x="212.4" y="218.8" font-size="5.55" text-anchor="middle" textLength="2.66" lengthAdjust="spacingAndGlyphs">9</text>
<text x="229.2" y="209.1" font-size="5.55" text-anchor="middle" textLength="5.31" lengthAdjust="spacingAndGlyphs">10</text>
<text x="247.4" y="200.3" font-size="5.55" text-anchor="middle" textLength="5.31" lengthAdjust="spacingAndGlyphs">11</text>
<text x="265.7" y="191.4" font-size="5.55" text-anchor="middle" textLength="5.31" lengthAdjust="spacingAndGlyphs">12</text>
<text x="143.1" y="243.3" font-size="5.55" text-anchor="end" textLength="14.60" lengthAdjust="spacingAndGlyphs">38,000</text>
<text x="119.2" y="230.8" font-size="5.55" text-anchor="end" textLength="14.60" lengthAdjust="spacingAndGlyphs">39,000</text>
<text x="91.8" y="217.6" font-size="5.55" text-anchor="end" textLength="14.60" lengthAdjust="spacingAndGlyphs">40,000</text>
<text x="64.4" y="204.4" font-size="5.55" text-anchor="end" textLength="14.60" lengthAdjust="spacingAndGlyphs">41,000</text>
<text x="37" y="191.2" font-size="5.55" text-anchor="end" textLength="14.60" lengthAdjust="spacingAndGlyphs">42,000</text>
<text x="34.4" y="128.6" font-size="5.55" text-anchor="end" textLength="6.64" lengthAdjust="spacingAndGlyphs">0.0</text>
<text x="33.5" y="110.1" font-size="5.55" text-anchor="end" textLength="6.64" lengthAdjust="spacingAndGlyphs">0.5</text>
<text x="32.6" y="91.5" font-size="5.55" text-anchor="end" textLength="6.64" lengthAdjust="spacingAndGlyphs">1.0</text>
<text x="31.7" y="73" font-size="5.55" text-anchor="end" textLength="6.64" lengthAdjust="spacingAndGlyphs">1.5</text>
<text x="30.8" y="54.4" font-size="5.55" text-anchor="end" textLength="6.64" lengthAdjust="spacingAndGlyphs">2.0</text>
<text x="29.9" y="35.8" font-size="5.55" text-anchor="end" textLength="6.64" lengthAdjust="spacingAndGlyphs">2.5</text>
</g>
</g>
<g font-family='"Liberation Serif","DejaVu Serif",serif' font-weight="bold" fill="#111" stroke="#111" stroke-width="0.12">
<text transform="translate(287.2,167) rotate(-90.00)" font-size="10.8" textLength="121" lengthAdjust="spacingAndGlyphs">Splashing density (kg·m<tspan font-size="62%" dy="-0.6em">−2</tspan><tspan dy="0.372em">·s</tspan><tspan font-size="62%" dy="-0.6em">−1</tspan><tspan dy="0.372em">)</tspan></text>
<text transform="translate(293.2,198.7) rotate(26.72)" font-size="10.8" textLength="135.2" lengthAdjust="spacingAndGlyphs">Top blowing flowrate (Nm<tspan font-size="62%" dy="-0.6em">3</tspan><tspan dy="0.372em">·h</tspan><tspan font-size="62%" dy="-0.6em">−1</tspan><tspan dy="0.372em">)</tspan></text>
<text transform="translate(432.2,254) rotate(-25.99)" font-size="10.8" textLength="124.4" lengthAdjust="spacingAndGlyphs">Amount of remained slag (%)</text>
</g>
<g transform="translate(137.5,277.8) scale(0.955)">
<path d="M37.7,126.7 L150,90.7 L262.5,126.7 M36.7,108.1 L150,74.1 L263.4,108.1 M35.8,89.6 L150,57.4 L264.3,89.6 M34.9,71 L150,40.7 L265.2,71 M34,52.5 L150,24 L266.1,52.5 M33.1,33.9 L150,7.4 L267,33.9 M65.7,117.7 L62.3,27.3 M93.8,108.7 L91.6,20.6 M121.9,99.7 L120.8,14 M150,143.2 L150,7.4 M259.6,184.7 L267,33.9 M234.4,117.7 L237.8,27.3 M206.3,108.7 L208.5,20.6 M178.1,99.7 L179.3,14" fill="none" stroke="#2c2c2c" stroke-width="0.6"/>
<path d="M40.5,184.7 L33.1,33.9" fill="none" stroke="#222" stroke-width="0.7"/>
<polygon points="40.5,184.7 150,143.2 259.6,184.7 150.1,237.6" fill="#666666" stroke="#333" stroke-width="0.5"/>
<polyline points="57.9,193.1 60.4,193.4 61.9,193.6 63.3,193.7 65.3,193.9 67.6,194.2 69.3,194.3 70.8,194.5 72.3,194.6 74.5,194.8 76.7,194.9 78.7,195.1 80.4,195.2 82,195.2 83.7,195.3 85.4,195.4 87.2,195.4 89.1,195.5 91,195.5 92.9,195.5 94.7,195.5 96.6,195.4 98.7,195.3 100.9,195.2 103.1,195 104.8,194.9 106.3,194.7 108.3,194.5 110.5,194.1 111.9,193.9 114.3,193.3 115.8,192.9 117.7,192.3 119.6,191.5 121.3,190.6 122.1,190.1 123.4,189.1 124,188.5 124.7,187.6 125.3,186.6 125.6,186 125.8,185.3 125.9,184.5 126,183.7 125.9,182.9 125.8,182.1 125.5,181.3 125.3,180.6 125,180 124.7,179.3 124.1,178.2 123.7,177.6 123.3,177.1 122.5,176 122,175.4 121.5,174.8 120.6,173.9 120.1,173.3 119,172.3 118.5,171.9 117.4,170.9 116.9,170.4 115.7,169.5 115.2,169 114,168.1 113.3,167.6 112.2,166.8 111,165.9 110.3,165.5 109.1,164.6 108,163.9 107.2,163.4 105.9,162.6 104.6,161.8 103.9,161.4 103.2,161" fill="none" stroke="#d97f27" stroke-width="1.2"/>
<polyline points="96.2,211.6 98,211.8 99.6,211.9 101.2,212.1 103.6,212.3 106,212.5 107.7,212.7 109.3,212.8 111,212.9 113,213 115.2,213.2 117.5,213.3 119.6,213.4 121.4,213.5 123.2,213.6 125.1,213.6 126.9,213.7 128.8,213.7 130.8,213.7 132.7,213.7 134.7,213.7 136.8,213.7 138.9,213.6 141,213.5 143.2,213.4 144.9,213.3 146.6,213.2 148.2,213 150.6,212.8 152.9,212.5 154.3,212.2 156.3,211.9 158.5,211.5 159.9,211.2 162.3,210.5 164.6,209.8 165.7,209.4 167.7,208.6 169.5,207.7 170.3,207.2 171.8,206.2 173,205.2 173.6,204.5 174.2,203.7 175,202.5 175.3,201.8 175.5,201.1 175.7,200.4 175.9,199.5 175.9,198.6 175.9,197.8 175.7,197 175.6,196.2 175.4,195.4 175,194.5 174.6,193.5 174.2,192.6 173.8,192 173.4,191.3 172.8,190.4 172.1,189.5 171.6,188.8 171,188.1 170.1,187.1 169.6,186.5 168.8,185.6 168,184.8 167.4,184.3 166.3,183.2 165.7,182.7 164.5,181.6 163.9,181.1 162.7,180.1 162,179.6 160.8,178.6 160.1,178.1 158.8,177.2 158.2,176.7 156.8,175.7 155.9,175.1 154.8,174.4 153.5,173.4 152.8,173 151.4,172.1 150,171.2 149.3,170.8 147.9,169.9 146.5,169.1 145.8,168.7 144.4,167.8 143,167 142.3,166.6 140.8,165.8 139.4,165 137.9,164.2 137.2,163.8 135.7,163 134.3,162.2 132.8,161.4 131.9,161 130.6,160.3 129.1,159.6 127.6,158.8 126.1,158.1 124.6,157.4 123.9,157 122.4,156.3 120.9,155.6 119.4,154.9 119.4,154.9" fill="none" stroke="#d9bc33" stroke-width="1.2"/>
<polyline points="220.6,203.5 220.1,202.8 219.5,202 218.6,200.8 218,200.2 217.5,199.5 216.4,198.4 215.7,197.7 215.1,197.1 213.9,195.9 213.3,195.3 212.3,194.4 211.3,193.6 210.7,193 209.4,191.9 208.7,191.3 207.3,190.2 206.7,189.7 205.3,188.6 204.6,188.1 203.2,187.1 202.5,186.6 201,185.6 200.3,185.1 198.9,184.1 197.7,183.3 196.7,182.6 195.2,181.7 194.5,181.2 193,180.2 191.7,179.4 190.8,178.8 189.3,177.9 188.2,177.3 187,176.6 185.5,175.7 184.4,175.1 183.2,174.4 181.7,173.5 180.1,172.7 179.4,172.2 177.8,171.4 176.3,170.6 175.3,170.1 173.9,169.3 172.4,168.5 170.8,167.7 169.8,167.2 168.5,166.5 166.9,165.7 165.4,165 163.8,164.2 163,163.8 161.4,163 159.9,162.3 158.3,161.5 156.7,160.8 155.2,160 154.4,159.7 152.8,158.9 151.2,158.2 149.6,157.5 148.1,156.8 146.5,156.1 144.9,155.4 143.5,154.8 142.5,154.3 141,153.7 139.4,153 137.8,152.3 136.2,151.6 134.6,151 133,150.3 132.3,150" fill="none" stroke="#c6d636" stroke-width="1.2"/>
<polyline points="133.6,229.7 135.5,229.8 137.2,230 138.9,230.2 141.2,230.4 143.7,230.6 145.9,230.7 147.7,230.8 149.5,231 151.3,231.1 153.2,231.2 155.5,231.3 157.8,231.4 160,231.5 162.3,231.6 162.5,231.6" fill="none" stroke="#c6d636" stroke-width="1.2"/>
<polyline points="238.6,194.8 237.1,193.8 236.3,193.2 234.7,192.2 234,191.7 232.4,190.6 231.6,190.1 230.1,189.1 228.9,188.4 227.7,187.6 226.1,186.7 225.3,186.2 223.8,185.2 222.3,184.4 221.4,183.8 219.8,182.9 218.6,182.2 217.4,181.5 215.7,180.6 214.6,179.9 213.3,179.2 211.7,178.3 210.1,177.5 209.3,177 207.6,176.1 206,175.3 205.2,174.9 203.6,174 201.9,173.2 200.3,172.3 199.5,171.9 197.9,171.1 196.2,170.3 194.6,169.5 193.3,168.9 192.1,168.3 190.5,167.5 188.9,166.7 187.2,166 185.9,165.3 184.8,164.8 183.1,164 181.5,163.3 179.9,162.5 178.2,161.8 176.6,161.1 175.8,160.7 174.1,160 172.5,159.2 170.9,158.5 169.2,157.8 167.6,157.1 166,156.4 164.3,155.7 163.5,155.4 161.9,154.7 160.3,154 158.6,153.3 157,152.6 155.4,152 153.8,151.3 152.1,150.6 150.5,150 148.9,149.3 147.3,148.7 145.6,148 144,147.4 142.4,146.8 141.6,146.4" fill="none" stroke="#7ed731" stroke-width="1.2"/>
<polyline points="251,188.8 249.3,187.9 248.5,187.4 246.8,186.4 245.1,185.5 244.2,185 242.5,184.1 240.8,183.2 239.8,182.7 238.3,181.9 236.6,181 234.9,180.1 234,179.6 232.3,178.8 230.6,177.9 229.4,177.3 228,176.6 226.3,175.8 224.6,174.9 223.4,174.3 222.1,173.7 220.4,172.9 218.7,172 216.9,171.2 216.1,170.8 214.4,170 212.7,169.2 211,168.5 209.3,167.7 208.4,167.3 206.7,166.5 205,165.8 203.4,165 201.7,164.2 200,163.5 198.6,162.9 197.4,162.4 195.7,161.7 194,160.9 192.4,160.2 190.7,159.5 189,158.8 187.3,158.1 185.6,157.4 184.8,157 183.1,156.3 181.4,155.6 179.8,154.9 178.1,154.2 176.4,153.6 174.7,152.9 173.1,152.2 171.4,151.6 169.7,150.9 168.1,150.2 166.4,149.6 164.8,148.9 163.1,148.3 161.4,147.7 159.8,147 158.1,146.4 156.5,145.8 154.8,145.1 153.2,144.5 151.6,143.9 149.9,143.3 149.9,143.3" fill="none" stroke="#3ed435" stroke-width="1.2"/>
<circle cx="150.1" cy="237.6" r="0.9" fill="#000"/>
<circle cx="177.5" cy="224.4" r="0.9" fill="#000"/>
<circle cx="204.9" cy="211.1" r="0.9" fill="#000"/>
<circle cx="232.2" cy="197.9" r="0.9" fill="#000"/>
<circle cx="259.6" cy="184.7" r="0.9" fill="#000"/>
<circle cx="150.1" cy="237.6" r="0.9" fill="#000"/>
<circle cx="122.7" cy="224.4" r="0.9" fill="#000"/>
<circle cx="95.3" cy="211.1" r="0.9" fill="#000"/>
<circle cx="67.9" cy="197.9" r="0.9" fill="#000"/>
<circle cx="40.5" cy="184.7" r="0.9" fill="#000"/>
<circle cx="37.7" cy="126.7" r="0.9" fill="#000"/>
<circle cx="36.7" cy="108.1" r="0.9" fill="#000"/>
<circle cx="35.8" cy="89.6" r="0.9" fill="#000"/>
<circle cx="34.9" cy="71" r="0.9" fill="#000"/>
<circle cx="34" cy="52.5" r="0.9" fill="#000"/>
<circle cx="33.1" cy="33.9" r="0.9" fill="#000"/>
<g stroke="#000" stroke-opacity="0.66" stroke-width="0.46" stroke-linejoin="round">
<polygon points="149.3,46.3 154.7,49.5 150,47.1 144.6,44" fill="#54f65f"/>
<polygon points="154,48.4 159.4,51.8 154.7,49.5 149.3,46.3" fill="#50f664"/>
<polygon points="143.8,43.3 149.3,46.3 144.6,44 139.2,41.3" fill="#68f64e"/>
<polygon points="158.8,50.5 164.1,54 159.4,51.8 154,48.4" fill="#4ff76c"/>
<polygon points="148.5,45.4 154,48.4 149.3,46.3 143.8,43.3" fill="#61f650"/>
<polygon points="163.6,52.6 168.9,56.1 164.1,54 158.8,50.5" fill="#4ef774"/>
<polygon points="138.3,40.7 143.8,43.3 139.2,41.3 133.6,38.7" fill="#9afa50"/>
<polygon points="153.3,47.4 158.8,50.5 154,48.4 148.5,45.4" fill="#5ef653"/>
<polygon points="168.4,54.6 173.7,58.2 168.9,56.1 163.6,52.6" fill="#4ef87c"/>
<polygon points="143,42.7 148.5,45.4 143.8,43.3 138.3,40.7" fill="#91f950"/>
<polygon points="158.1,49.4 163.6,52.6 158.8,50.5 153.3,47.4" fill="#5bf656"/>
<polygon points="132.6,38.4 138.3,40.7 133.6,38.7 127.9,36.5" fill="#ccfa55"/>
<polygon points="173.3,56.6 178.6,60.2 173.7,58.2 168.4,54.6" fill="#4df882"/>
<polygon points="147.8,44.6 153.3,47.4 148.5,45.4 143,42.7" fill="#89f84f"/>
<polygon points="163,51.3 168.4,54.6 163.6,52.6 158.1,49.4" fill="#59f659"/>
<polygon points="137.4,40.3 143,42.7 138.3,40.7 132.6,38.4" fill="#c4fa54"/>
<polygon points="178.2,58.5 183.6,62.1 178.6,60.2 173.3,56.6" fill="#4cf988"/>
<polygon points="152.6,46.5 158.1,49.4 153.3,47.4 147.8,44.6" fill="#81f84f"/>
<polygon points="126.9,36.4 132.6,38.4 127.9,36.5 122.2,34.6" fill="#f2f855"/>
<polygon points="167.9,53.2 173.3,56.6 168.4,54.6 163,51.3" fill="#57f65c"/>
<polygon points="142.1,42.1 147.8,44.6 143,42.7 137.4,40.3" fill="#bcfa53"/>
<polygon points="183.3,60.3 188.5,64 183.6,62.1 178.2,58.5" fill="#4cf98d"/>
<polygon points="157.5,48.4 163,51.3 158.1,49.4 152.6,46.5" fill="#79f74f"/>
<polygon points="131.6,38.2 137.4,40.3 132.6,38.4 126.9,36.4" fill="#ecf855"/>
<polygon points="172.9,55.1 178.2,58.5 173.3,56.6 167.9,53.2" fill="#55f65e"/>
<polygon points="121.1,34.7 126.9,36.4 122.2,34.6 116.4,33" fill="#f9f155"/>
<polygon points="147,43.9 152.6,46.5 147.8,44.6 142.1,42.1" fill="#b4fa52"/>
<polygon points="188.3,62.1 193.6,65.8 188.5,64 183.3,60.3" fill="#4cfa91"/>
<polygon points="162.4,50.3 167.9,53.2 163,51.3 157.5,48.4" fill="#72f74f"/>
<polygon points="136.4,39.9 142.1,42.1 137.4,40.3 131.6,38.2" fill="#e7f955"/>
<polygon points="177.9,56.9 183.3,60.3 178.2,58.5 172.9,55.1" fill="#53f660"/>
<polygon points="151.8,45.8 157.5,48.4 152.6,46.5 147,43.9" fill="#adfa51"/>
<polygon points="125.8,36.4 131.6,38.2 126.9,36.4 121.1,34.7" fill="#f8f255"/>
<polygon points="193.4,63.8 198.7,67.5 193.6,65.8 188.3,62.1" fill="#4bfa94"/>
<polygon points="167.4,52.1 172.9,55.1 167.9,53.2 162.4,50.3" fill="#6cf74e"/>
<polygon points="115.2,33.4 121.1,34.7 116.4,33 110.5,31.8" fill="#fcdd52"/>
<polygon points="141.3,41.7 147,43.9 142.1,42.1 136.4,39.9" fill="#e1f955"/>
<polygon points="182.9,58.7 188.3,62.1 183.3,60.3 177.9,56.9" fill="#52f662"/>
<polygon points="156.8,47.6 162.4,50.3 157.5,48.4 151.8,45.8" fill="#a6fa51"/>
<polygon points="130.6,38.1 136.4,39.9 131.6,38.2 125.8,36.4" fill="#f7f355"/>
<polygon points="198.6,65.5 203.8,69.1 198.7,67.5 193.4,63.8" fill="#4bfa97"/>
<polygon points="172.4,53.9 177.9,56.9 172.9,55.1 167.4,52.1" fill="#67f64e"/>
<polygon points="119.9,35 125.8,36.4 121.1,34.7 115.2,33.4" fill="#fce053"/>
<polygon points="146.2,43.5 151.8,45.8 147,43.9 141.3,41.7" fill="#dcf955"/>
<polygon points="109.2,32.3 115.2,33.4 110.5,31.8 104.5,30.8" fill="#fcc650"/>
<polygon points="188.1,60.5 193.4,63.8 188.3,62.1 182.9,58.7" fill="#50f664"/>
<polygon points="161.8,49.4 167.4,52.1 162.4,50.3 156.8,47.6" fill="#a0fa50"/>
<polygon points="135.5,39.9 141.3,41.7 136.4,39.9 130.6,38.1" fill="#f6f455"/>
<polygon points="203.8,67.1 209,70.7 203.8,69.1 198.6,65.5" fill="#4bfa99"/>
<polygon points="177.5,55.7 182.9,58.7 177.9,56.9 172.4,53.9" fill="#62f64e"/>
<polygon points="124.7,36.7 130.6,38.1 125.8,36.4 119.9,35" fill="#fbe353"/>
<polygon points="151.1,45.3 156.8,47.6 151.8,45.8 146.2,43.5" fill="#d7f955"/>
<polygon points="114,33.9 119.9,35 115.2,33.4 109.2,32.3" fill="#fcc950"/>
<polygon points="193.2,62.2 198.6,65.5 193.4,63.8 188.1,60.5" fill="#50f666"/>
<polygon points="166.8,51.2 172.4,53.9 167.4,52.1 161.8,49.4" fill="#9afa50"/>
<polygon points="140.4,41.6 146.2,43.5 141.3,41.7 135.5,39.9" fill="#f5f555"/>
<polygon points="103.1,31.7 109.2,32.3 104.5,30.8 98.4,30.2" fill="#fba346"/>
<polygon points="209.1,68.6 214.3,72.1 209,70.7 203.8,67.1" fill="#4bfa9a"/>
<polygon points="182.6,57.5 188.1,60.5 182.9,58.7 177.5,55.7" fill="#61f650"/>
<polygon points="129.6,38.4 135.5,39.9 130.6,38.1 124.7,36.7" fill="#fbe653"/>
<polygon points="156.1,47.1 161.8,49.4 156.8,47.6 151.1,45.3" fill="#d2fa55"/>
<polygon points="118.8,35.6 124.7,36.7 119.9,35 114,33.9" fill="#fccc51"/>
<polygon points="198.5,63.8 203.8,67.1 198.6,65.5 193.2,62.2" fill="#50f668"/>
<polygon points="171.9,53 177.5,55.7 172.4,53.9 166.8,51.2" fill="#95f950"/>
<polygon points="145.3,43.4 151.1,45.3 146.2,43.5 140.4,41.6" fill="#f4f655"/>
<polygon points="107.9,33.2 114,33.9 109.2,32.3 103.1,31.7" fill="#fca748"/>
<polygon points="214.4,70.1 219.6,73.5 214.3,72.1 209.1,68.6" fill="#4bfa99"/>
<polygon points="187.8,59.2 193.2,62.2 188.1,60.5 182.6,57.5" fill="#60f651"/>
<polygon points="134.5,40.1 140.4,41.6 135.5,39.9 129.6,38.4" fill="#fbe954"/>
<polygon points="161.1,48.9 166.8,51.2 161.8,49.4 156.1,47.1" fill="#cdfa55"/>
<polygon points="97,31.4 103.1,31.7 98.4,30.2 92.3,29.9" fill="#f87c39"/>
<polygon points="123.6,37.2 129.6,38.4 124.7,36.7 118.8,35.6" fill="#fcd051"/>
<polygon points="203.8,65.5 209.1,68.6 203.8,67.1 198.5,63.8" fill="#4ff669"/>
<polygon points="177,54.8 182.6,57.5 177.5,55.7 171.9,53" fill="#91f950"/>
<polygon points="150.3,45.2 156.1,47.1 151.1,45.3 145.3,43.4" fill="#f3f755"/>
<polygon points="112.7,34.8 118.8,35.6 114,33.9 107.9,33.2" fill="#fcac4a"/>
<polygon points="219.8,71.5 225,74.8 219.6,73.5 214.4,70.1" fill="#4bfa98"/>
<polygon points="139.4,41.8 145.3,43.4 140.4,41.6 134.5,40.1" fill="#faec54"/>
<polygon points="193,60.9 198.5,63.8 193.2,62.2 187.8,59.2" fill="#5ff652"/>
<polygon points="166.2,50.8 171.9,53 166.8,51.2 161.1,48.9" fill="#c7fa54"/>
<polygon points="101.7,32.9 107.9,33.2 103.1,31.7 97,31.4" fill="#f8823b"/>
<polygon points="128.5,38.9 134.5,40.1 129.6,38.4 123.6,37.2" fill="#fcd351"/>
<polygon points="90.8,31.4 97,31.4 92.3,29.9 86.1,30" fill="#f35f2f"/>
<polygon points="209.1,67 214.4,70.1 209.1,68.6 203.8,65.5" fill="#4ff76a"/>
<polygon points="155.4,47 161.1,48.9 156.1,47.1 150.3,45.2" fill="#f2f855"/>
<polygon points="182.3,56.6 187.8,59.2 182.6,57.5 177,54.8" fill="#8cf94f"/>
<polygon points="117.6,36.5 123.6,37.2 118.8,35.6 112.7,34.8" fill="#fcb14b"/>
<polygon points="225.3,72.9 230.5,76.1 225,74.8 219.8,71.5" fill="#4bfa97"/>
<polygon points="144.5,43.6 150.3,45.2 145.3,43.4 139.4,41.8" fill="#faef55"/>
<polygon points="198.4,62.6 203.8,65.5 198.5,63.8 193,60.9" fill="#5ef653"/>
<polygon points="171.4,52.6 177,54.8 171.9,53 166.2,50.8" fill="#c2fa54"/>
<polygon points="106.6,34.5 112.7,34.8 107.9,33.2 101.7,32.9" fill="#f9883d"/>
<polygon points="133.5,40.7 139.4,41.8 134.5,40.1 128.5,38.9" fill="#fcd752"/>
<polygon points="95.5,32.9 101.7,32.9 97,31.4 90.8,31.4" fill="#f46230"/>
<polygon points="214.5,68.6 219.8,71.5 214.4,70.1 209.1,67" fill="#4ff76b"/>
<polygon points="160.5,48.8 166.2,50.8 161.1,48.9 155.4,47" fill="#eef855"/>
<polygon points="187.5,58.4 193,60.9 187.8,59.2 182.3,56.6" fill="#89f84f"/>
<polygon points="84.5,31.8 90.8,31.4 86.1,30 79.8,30.4" fill="#ef4c29"/>
<polygon points="122.5,38.2 128.5,38.9 123.6,37.2 117.6,36.5" fill="#fcb74d"/>
<polygon points="149.5,45.5 155.4,47 150.3,45.2 144.5,43.6" fill="#f9f155"/>
<polygon points="230.8,74.2 236,77.2 230.5,76.1 225.3,72.9" fill="#4bfa94"/>
<polygon points="203.7,64.3 209.1,67 203.8,65.5 198.4,62.6" fill="#5df654"/>
<polygon points="176.6,54.4 182.3,56.6 177,54.8 171.4,52.6" fill="#bdfa53"/>
<polygon points="111.4,36.1 117.6,36.5 112.7,34.8 106.6,34.5" fill="#f98f3f"/>
<polygon points="138.5,42.5 144.5,43.6 139.4,41.8 133.5,40.7" fill="#fcda52"/>
<polygon points="100.3,34.5 106.6,34.5 101.7,32.9 95.5,32.9" fill="#f46632"/>
<polygon points="165.7,50.7 171.4,52.6 166.2,50.8 160.5,48.8" fill="#eaf855"/>
<polygon points="220,70.1 225.3,72.9 219.8,71.5 214.5,68.6" fill="#4ff66a"/>
<polygon points="192.8,60.2 198.4,62.6 193,60.9 187.5,58.4" fill="#85f84f"/>
<polygon points="89.2,33.3 95.5,32.9 90.8,31.4 84.5,31.8" fill="#ef4f2a"/>
<polygon points="127.4,39.9 133.5,40.7 128.5,38.9 122.5,38.2" fill="#fcbd4e"/>
<polygon points="154.6,47.3 160.5,48.8 155.4,47 149.5,45.5" fill="#f8f255"/>
<polygon points="78.1,32.6 84.5,31.8 79.8,30.4 73.4,31.2" fill="#eb4226"/>
<polygon points="181.9,56.3 187.5,58.4 182.3,56.6 176.6,54.4" fill="#b8fa53"/>
<polygon points="209.2,66 214.5,68.6 209.1,67 203.7,64.3" fill="#5df654"/>
<polygon points="236.4,75.4 241.6,78.2 236,77.2 230.8,74.2" fill="#4cfa91"/>
<polygon points="116.3,37.8 122.5,38.2 117.6,36.5 111.4,36.1" fill="#fa9642"/>
<polygon points="143.6,44.3 149.5,45.5 144.5,43.6 138.5,42.5" fill="#fcde52"/>
<polygon points="105.2,36.1 111.4,36.1 106.6,34.5 100.3,34.5" fill="#f56b33"/>
<polygon points="170.9,52.6 176.6,54.4 171.4,52.6 165.7,50.7" fill="#e5f955"/>
<polygon points="198.2,62 203.7,64.3 198.4,62.6 192.8,60.2" fill="#82f84f"/>
<polygon points="225.6,71.5 230.8,74.2 225.3,72.9 220,70.1" fill="#4ff669"/>
<polygon points="94,34.9 100.3,34.5 95.5,32.9 89.2,33.3" fill="#f0522b"/>
<polygon points="132.5,41.7 138.5,42.5 133.5,40.7 127.4,39.9" fill="#fcc44f"/>
<polygon points="159.8,49.2 165.7,50.7 160.5,48.8 154.6,47.3" fill="#f7f355"/>
<polygon points="82.8,34.1 89.2,33.3 84.5,31.8 78.1,32.6" fill="#ec4426"/>
<polygon points="187.2,58.1 192.8,60.2 187.5,58.4 181.9,56.3" fill="#b4fa52"/>
<polygon points="214.6,67.6 220,70.1 214.5,68.6 209.2,66" fill="#5df655"/>
<polygon points="242.1,76.6 247.2,79.2 241.6,78.2 236.4,75.4" fill="#4cf98d"/>
<polygon points="121.3,39.5 127.4,39.9 122.5,38.2 116.3,37.8" fill="#fb9c44"/>
<polygon points="71.6,33.8 78.1,32.6 73.4,31.2 66.9,32.3" fill="#e93e24"/>
<polygon points="148.7,46.2 154.6,47.3 149.5,45.5 143.6,44.3" fill="#fce153"/>
<polygon points="110.1,37.8 116.3,37.8 111.4,36.1 105.2,36.1" fill="#f67135"/>
<polygon points="176.2,54.5 181.9,56.3 176.6,54.4 170.9,52.6" fill="#e1f955"/>
<polygon points="203.7,63.7 209.2,66 203.7,64.3 198.2,62" fill="#80f84f"/>
<polygon points="231.2,72.9 236.4,75.4 230.8,74.2 225.6,71.5" fill="#50f667"/>
<polygon points="98.9,36.5 105.2,36.1 100.3,34.5 94,34.9" fill="#f1562d"/>
<polygon points="137.5,43.5 143.6,44.3 138.5,42.5 132.5,41.7" fill="#fcc850"/>
<polygon points="165.1,51.1 170.9,52.6 165.7,50.7 159.8,49.2" fill="#f6f455"/>
<polygon points="87.6,35.7 94,34.9 89.2,33.3 82.8,34.1" fill="#ed4627"/>
<polygon points="192.6,60 198.2,62 192.8,60.2 187.2,58.1" fill="#b0fa52"/>
<polygon points="220.2,69.2 225.6,71.5 220,70.1 214.6,67.6" fill="#5cf655"/>
<polygon points="126.3,41.3 132.5,41.7 127.4,39.9 121.3,39.5" fill="#fba347"/>
<polygon points="247.8,77.7 253,80.1 247.2,79.2 242.1,76.6" fill="#4cf988"/>
<polygon points="76.4,35.3 82.8,34.1 78.1,32.6 71.6,33.8" fill="#ea3f25"/>
<polygon points="153.9,48.1 159.8,49.2 154.6,47.3 148.7,46.2" fill="#fbe453"/>
<polygon points="65.1,35.4 71.6,33.8 66.9,32.3 60.4,33.9" fill="#e93c24"/>
<polygon points="115.1,39.6 121.3,39.5 116.3,37.8 110.1,37.8" fill="#f77938"/>
<polygon points="181.5,56.4 187.2,58.1 181.9,56.3 176.2,54.5" fill="#ddf955"/>
<polygon points="209.2,65.5 214.6,67.6 209.2,66 203.7,63.7" fill="#7df84f"/>
<polygon points="236.9,74.3 242.1,76.6 236.4,75.4 231.2,72.9" fill="#50f665"/>
<polygon points="103.8,38.2 110.1,37.8 105.2,36.1 98.9,36.5" fill="#f25c2e"/>
<polygon points="142.7,45.5 148.7,46.2 143.6,44.3 137.5,43.5" fill="#fccd51"/>
<polygon points="170.3,53.1 176.2,54.5 170.9,52.6 165.1,51.1" fill="#f5f555"/>
<polygon points="92.5,37.4 98.9,36.5 94,34.9 87.6,35.7" fill="#ee4828"/>
<polygon points="198.1,61.8 203.7,63.7 198.2,62 192.6,60" fill="#acfa51"/>
<polygon points="225.8,70.8 231.2,72.9 225.6,71.5 220.2,69.2" fill="#5df655"/>
<polygon points="131.4,43.2 137.5,43.5 132.5,41.7 126.3,41.3" fill="#fcaa49"/>
<polygon points="81.2,36.9 87.6,35.7 82.8,34.1 76.4,35.3" fill="#eb4125"/>
<polygon points="253.7,78.7 258.8,80.9 253,80.1 247.8,77.7" fill="#4df882"/>
<polygon points="159.1,50.1 165.1,51.1 159.8,49.2 153.9,48.1" fill="#fbe854"/>
<polygon points="69.8,36.9 76.4,35.3 71.6,33.8 65.1,35.4" fill="#e93e24"/>
<polygon points="120.1,41.4 126.3,41.3 121.3,39.5 115.1,39.6" fill="#f8823b"/>
<polygon points="186.9,58.3 192.6,60 187.2,58.1 181.5,56.4" fill="#d8f955"/>
<polygon points="214.7,67.2 220.2,69.2 214.6,67.6 209.2,65.5" fill="#7bf84f"/>
<polygon points="58.5,37.3 65.1,35.4 60.4,33.9 53.8,35.8" fill="#e93e24"/>
<polygon points="242.6,75.6 247.8,77.7 242.1,76.6 236.9,74.3" fill="#51f663"/>
<polygon points="108.8,40 115.1,39.6 110.1,37.8 103.8,38.2" fill="#f36130"/>
<polygon points="147.9,47.4 153.9,48.1 148.7,46.2 142.7,45.5" fill="#fcd151"/>
<polygon points="175.7,55.1 181.5,56.4 176.2,54.5 170.3,53.1" fill="#f4f655"/>
<polygon points="97.4,39.1 103.8,38.2 98.9,36.5 92.5,37.4" fill="#ef4d2a"/>
<polygon points="203.6,63.7 209.2,65.5 203.7,63.7 198.1,61.8" fill="#a8fa51"/>
<polygon points="136.5,45.1 142.7,45.5 137.5,43.5 131.4,43.2" fill="#fcb24b"/>
<polygon points="231.5,72.3 236.9,74.3 231.2,72.9 225.8,70.8" fill="#5df654"/>
<polygon points="86,38.6 92.5,37.4 87.6,35.7 81.2,36.9" fill="#ec4426"/>
<polygon points="164.4,52.1 170.3,53.1 165.1,51.1 159.1,50.1" fill="#faeb54"/>
<polygon points="259.5,79.7 264.7,81.6 258.8,80.9 253.7,78.7" fill="#4ef87b"/>
<polygon points="74.6,38.6 81.2,36.9 76.4,35.3 69.8,36.9" fill="#ea4025"/>
<polygon points="125.2,43.3 131.4,43.2 126.3,41.3 120.1,41.4" fill="#f98c3e"/>
<polygon points="192.4,60.3 198.1,61.8 192.6,60 186.9,58.3" fill="#d4fa55"/>
<polygon points="63.2,39 69.8,36.9 65.1,35.4 58.5,37.3" fill="#ea4025"/>
<polygon points="220.4,68.9 225.8,70.8 220.2,69.2 214.7,67.2" fill="#7af84f"/>
<polygon points="51.8,39.7 58.5,37.3 53.8,35.8 47.1,38.1" fill="#ec4326"/>
<polygon points="153.1,49.4 159.1,50.1 153.9,48.1 147.9,47.4" fill="#fcd551"/>
<polygon points="113.8,41.9 120.1,41.4 115.1,39.6 108.8,40" fill="#f56832"/>
<polygon points="248.4,76.9 253.7,78.7 247.8,77.7 242.6,75.6" fill="#52f662"/>
<polygon points="181.1,57.1 186.9,58.3 181.5,56.4 175.7,55.1" fill="#f3f755"/>
<polygon points="102.4,40.9 108.8,40 103.8,38.2 97.4,39.1" fill="#f0532c"/>
<polygon points="209.2,65.6 214.7,67.2 209.2,65.5 203.6,63.7" fill="#a4fa50"/>
<polygon points="141.7,47.1 147.9,47.4 142.7,45.5 136.5,45.1" fill="#fcba4d"/>
<polygon points="237.3,73.8 242.6,75.6 236.9,74.3 231.5,72.3" fill="#5df654"/>
<polygon points="90.9,40.4 97.4,39.1 92.5,37.4 86,38.6" fill="#ed4728"/>
<polygon points="169.8,54.1 175.7,55.1 170.3,53.1 164.4,52.1" fill="#faef55"/>
<polygon points="130.3,45.3 136.5,45.1 131.4,43.2 125.2,43.3" fill="#fa9742"/>
<polygon points="79.5,40.3 86,38.6 81.2,36.9 74.6,38.6" fill="#ec4326"/>
<polygon points="197.9,62.3 203.6,63.7 198.1,61.8 192.4,60.3" fill="#d0fa55"/>
<polygon points="68,40.7 74.6,38.6 69.8,36.9 63.2,39" fill="#eb4226"/>
<polygon points="226.1,70.7 231.5,72.3 225.8,70.8 220.4,68.9" fill="#79f74f"/>
<polygon points="158.4,51.5 164.4,52.1 159.1,50.1 153.1,49.4" fill="#fcda52"/>
<polygon points="118.9,43.8 125.2,43.3 120.1,41.4 113.8,41.9" fill="#f67035"/>
<polygon points="56.5,41.4 63.2,39 58.5,37.3 51.8,39.7" fill="#ed4527"/>
<polygon points="254.3,78.1 259.5,79.7 253.7,78.7 248.4,76.9" fill="#54f660"/>
<polygon points="45.1,42.5 51.8,39.7 47.1,38.1 40.4,40.8" fill="#ef4e2a"/>
<polygon points="186.6,59.2 192.4,60.3 186.9,58.3 181.1,57.1" fill="#f2f855"/>
<polygon points="107.4,42.8 113.8,41.9 108.8,40 102.4,40.9" fill="#f25a2e"/>
<polygon points="214.8,67.5 220.4,68.9 214.7,67.2 209.2,65.6" fill="#a1fa50"/>
<polygon points="147,49.2 153.1,49.4 147.9,47.4 141.7,47.1" fill="#fcc24f"/>
<polygon points="243.1,75.3 248.4,76.9 242.6,75.6 237.3,73.8" fill="#5ef653"/>
<polygon points="95.9,42.2 102.4,40.9 97.4,39.1 90.9,40.4" fill="#ef4c29"/>
<polygon points="175.2,56.2 181.1,57.1 175.7,55.1 169.8,54.1" fill="#f9f155"/>
<polygon points="135.5,47.3 141.7,47.1 136.5,45.1 130.3,45.3" fill="#fba045"/>
<polygon points="84.4,42.1 90.9,40.4 86,38.6 79.5,40.3" fill="#ed4627"/>
<polygon points="203.5,64.3 209.2,65.6 203.6,63.7 197.9,62.3" fill="#ccfa55"/>
<polygon points="72.9,42.4 79.5,40.3 74.6,38.6 68,40.7" fill="#ed4527"/>
<polygon points="231.8,72.4 237.3,73.8 231.5,72.3 226.1,70.7" fill="#78f74f"/>
<polygon points="163.8,53.6 169.8,54.1 164.4,52.1 158.4,51.5" fill="#fcdf52"/>
<polygon points="124,45.8 130.3,45.3 125.2,43.3 118.9,43.8" fill="#f77b39"/>
<polygon points="61.3,43.2 68,40.7 63.2,39 56.5,41.4" fill="#ee4828"/>
<polygon points="49.8,44.3 56.5,41.4 51.8,39.7 45.1,42.5" fill="#f0522b"/>
<polygon points="192.1,61.2 197.9,62.3 192.4,60.3 186.6,59.2" fill="#eef855"/>
<polygon points="38.3,45.7 45.1,42.5 40.4,40.8 33.6,43.9" fill="#f36230"/>
<polygon points="112.5,44.8 118.9,43.8 113.8,41.9 107.4,42.8" fill="#f36230"/>
<polygon points="220.5,69.4 226.1,70.7 220.4,68.9 214.8,67.5" fill="#9efa50"/>
<polygon points="152.3,51.3 158.4,51.5 153.1,49.4 147,49.2" fill="#fcc950"/>
<polygon points="100.9,44.2 107.4,42.8 102.4,40.9 95.9,42.2" fill="#f0532b"/>
<polygon points="249,76.8 254.3,78.1 248.4,76.9 243.1,75.3" fill="#5ff652"/>
<polygon points="180.7,58.4 186.6,59.2 181.1,57.1 175.2,56.2" fill="#f8f255"/>
<polygon points="140.8,49.4 147,49.2 141.7,47.1 135.5,47.3" fill="#fca949"/>
<polygon points="89.3,44 95.9,42.2 90.9,40.4 84.4,42.1" fill="#ee4a29"/>
<polygon points="209.1,66.3 214.8,67.5 209.2,65.6 203.5,64.3" fill="#c7fa54"/>
<polygon points="77.8,44.3 84.4,42.1 79.5,40.3 72.9,42.4" fill="#ee4828"/>
<polygon points="237.7,74.1 243.1,75.3 237.3,73.8 231.8,72.4" fill="#78f74f"/>
<polygon points="169.2,55.8 175.2,56.2 169.8,54.1 163.8,53.6" fill="#fbe353"/>
<polygon points="129.2,47.9 135.5,47.3 130.3,45.3 124,45.8" fill="#f9883d"/>
<polygon points="66.2,45 72.9,42.4 68,40.7 61.3,43.2" fill="#ef4d2a"/>
<polygon points="54.6,46.1 61.3,43.2 56.5,41.4 49.8,44.3" fill="#f1572d"/>
<polygon points="197.7,63.4 203.5,64.3 197.9,62.3 192.1,61.2" fill="#e8f955"/>
<polygon points="43,47.6 49.8,44.3 45.1,42.5 38.3,45.7" fill="#f46732"/>
<polygon points="117.6,46.8 124,45.8 118.9,43.8 112.5,44.8" fill="#f56a33"/>
<polygon points="157.7,53.5 163.8,53.6 158.4,51.5 152.3,51.3" fill="#fccf51"/>
<polygon points="226.3,71.3 231.8,72.4 226.1,70.7 220.5,69.4" fill="#9cfa50"/>
<polygon points="106,46.2 112.5,44.8 107.4,42.8 100.9,44.2" fill="#f25a2e"/>
<polygon points="186.2,60.6 192.1,61.2 186.6,59.2 180.7,58.4" fill="#f7f355"/>
<polygon points="146.1,51.6 152.3,51.3 147,49.2 140.8,49.4" fill="#fcb34c"/>
<polygon points="94.4,46 100.9,44.2 95.9,42.2 89.3,44" fill="#f0522b"/>
<polygon points="214.9,68.4 220.5,69.4 214.8,67.5 209.1,66.3" fill="#c2fa54"/>
<polygon points="82.7,46.2 89.3,44 84.4,42.1 77.8,44.3" fill="#f04f2a"/>
<polygon points="174.7,58.1 180.7,58.4 175.2,56.2 169.2,55.8" fill="#fbe754"/>
<polygon points="134.5,50.1 140.8,49.4 135.5,47.3 129.2,47.9" fill="#fa9542"/>
<polygon points="243.6,75.8 249,76.8 243.1,75.3 237.7,74.1" fill="#78f74f"/>
<polygon points="71.1,46.9 77.8,44.3 72.9,42.4 66.2,45" fill="#f0532c"/>
<polygon points="59.4,48 66.2,45 61.3,43.2 54.6,46.1" fill="#f25d2f"/>
<polygon points="203.4,65.6 209.1,66.3 203.5,64.3 197.7,63.4" fill="#e3f955"/>
<polygon points="47.7,49.5 54.6,46.1 49.8,44.3 43,47.6" fill="#f66d34"/>
<polygon points="122.8,48.9 129.2,47.9 124,45.8 117.6,46.8" fill="#f77637"/>
<polygon points="163.1,55.8 169.2,55.8 163.8,53.6 157.7,53.5" fill="#fcd451"/>
<polygon points="232.1,73.2 237.7,74.1 231.8,72.4 226.3,71.3" fill="#99fa50"/>
<polygon points="111.2,48.3 117.6,46.8 112.5,44.8 106,46.2" fill="#f46331"/>
<polygon points="191.9,62.9 197.7,63.4 192.1,61.2 186.2,60.6" fill="#f5f555"/>
<polygon points="151.5,53.9 157.7,53.5 152.3,51.3 146.1,51.6" fill="#fcbe4e"/>
<polygon points="99.5,48 106,46.2 100.9,44.2 94.4,46" fill="#f25a2e"/>
<polygon points="220.7,70.5 226.3,71.3 220.5,69.4 214.9,68.4" fill="#bdfa53"/>
<polygon points="87.7,48.3 94.4,46 89.3,44 82.7,46.2" fill="#f1572d"/>
<polygon points="180.3,60.4 186.2,60.6 180.7,58.4 174.7,58.1" fill="#faec54"/>
<polygon points="139.8,52.3 146.1,51.6 140.8,49.4 134.5,50.1" fill="#fba046"/>
<polygon points="76,48.9 82.7,46.2 77.8,44.3 71.1,46.9" fill="#f25a2e"/>
<polygon points="64.3,50 71.1,46.9 66.2,45 59.4,48" fill="#f46431"/>
<polygon points="209.1,67.8 214.9,68.4 209.1,66.3 203.4,65.6" fill="#def955"/>
<polygon points="52.6,51.5 59.4,48 54.6,46.1 47.7,49.5" fill="#f77637"/>
<polygon points="128.1,51.2 134.5,50.1 129.2,47.9 122.8,48.9" fill="#f8843c"/>
<polygon points="168.6,58.1 174.7,58.1 169.2,55.8 163.1,55.8" fill="#fcda52"/>
<polygon points="238.1,75.1 243.6,75.8 237.7,74.1 232.1,73.2" fill="#97f950"/>
<polygon points="116.4,50.4 122.8,48.9 117.6,46.8 111.2,48.3" fill="#f66d34"/>
<polygon points="197.5,65.2 203.4,65.6 197.7,63.4 191.9,62.9" fill="#f4f655"/>
<polygon points="156.9,56.2 163.1,55.8 157.7,53.5 151.5,53.9" fill="#fcc750"/>
<polygon points="104.6,50.2 111.2,48.3 106,46.2 99.5,48" fill="#f46330"/>
<polygon points="226.5,72.6 232.1,73.2 226.3,71.3 220.7,70.5" fill="#b9fa53"/>
<polygon points="92.8,50.4 99.5,48 94.4,46 87.7,48.3" fill="#f35f2f"/>
<polygon points="185.9,62.7 191.9,62.9 186.2,60.6 180.3,60.4" fill="#faf055"/>
<polygon points="145.2,54.6 151.5,53.9 146.1,51.6 139.8,52.3" fill="#fcac4a"/>
<polygon points="81,51 87.7,48.3 82.7,46.2 76,48.9" fill="#f46230"/>
<polygon points="69.2,52.1 76,48.9 71.1,46.9 64.3,50" fill="#f66c33"/>
<polygon points="214.9,70 220.7,70.5 214.9,68.4 209.1,67.8" fill="#d9f955"/>
<polygon points="133.4,53.5 139.8,52.3 134.5,50.1 128.1,51.2" fill="#fa9341"/>
<polygon points="57.4,53.6 64.3,50 59.4,48 52.6,51.5" fill="#f8813a"/>
<polygon points="174.2,60.5 180.3,60.4 174.7,58.1 168.6,58.1" fill="#fce053"/>
<polygon points="121.6,52.7 128.1,51.2 122.8,48.9 116.4,50.4" fill="#f77b39"/>
<polygon points="203.3,67.5 209.1,67.8 203.4,65.6 197.5,65.2" fill="#f2f855"/>
<polygon points="162.4,58.6 168.6,58.1 163.1,55.8 156.9,56.2" fill="#fcce51"/>
<polygon points="109.8,52.4 116.4,50.4 111.2,48.3 104.6,50.2" fill="#f66d34"/>
<polygon points="232.4,74.7 238.1,75.1 232.1,73.2 226.5,72.6" fill="#b4fa52"/>
<polygon points="98,52.6 104.6,50.2 99.5,48 92.8,50.4" fill="#f56932"/>
<polygon points="191.6,65.2 197.5,65.2 191.9,62.9 185.9,62.7" fill="#f8f255"/>
<polygon points="150.6,57 156.9,56.2 151.5,53.9 145.2,54.6" fill="#fcb84d"/>
<polygon points="86.1,53.2 92.8,50.4 87.7,48.3 81,51" fill="#f56b33"/>
<polygon points="74.2,54.2 81,51 76,48.9 69.2,52.1" fill="#f77737"/>
<polygon points="220.8,72.3 226.5,72.6 220.7,70.5 214.9,70" fill="#d3fa55"/>
<polygon points="138.8,55.8 145.2,54.6 139.8,52.3 133.4,53.5" fill="#fba045"/>
<polygon points="62.4,55.7 69.2,52.1 64.3,50 57.4,53.6" fill="#f98d3e"/>
<polygon points="179.8,63 185.9,62.7 180.3,60.4 174.2,60.5" fill="#fbe553"/>
<polygon points="127,55.1 133.4,53.5 128.1,51.2 121.6,52.7" fill="#f98b3e"/>
<polygon points="209.1,69.9 214.9,70 209.1,67.8 203.3,67.5" fill="#eef855"/>
<polygon points="168,61.1 174.2,60.5 168.6,58.1 162.4,58.6" fill="#fcd551"/>
<polygon points="115.1,54.7 121.6,52.7 116.4,50.4 109.8,52.4" fill="#f77c39"/>
<polygon points="103.2,54.9 109.8,52.4 104.6,50.2 98,52.6" fill="#f77536"/>
<polygon points="197.3,67.6 203.3,67.5 197.5,65.2 191.6,65.2" fill="#f7f355"/>
<polygon points="156.2,59.5 162.4,58.6 156.9,56.2 150.6,57" fill="#fcc450"/>
<polygon points="91.2,55.4 98,52.6 92.8,50.4 86.1,53.2" fill="#f77837"/>
<polygon points="79.3,56.5 86.1,53.2 81,51 74.2,54.2" fill="#f8843c"/>
<polygon points="226.7,74.6 232.4,74.7 226.5,72.6 220.8,72.3" fill="#cefa55"/>
<polygon points="144.3,58.3 150.6,57 145.2,54.6 138.8,55.8" fill="#fcad4a"/>
<polygon points="67.4,58 74.2,54.2 69.2,52.1 62.4,55.7" fill="#fa9843"/>
<polygon points="185.5,65.5 191.6,65.2 185.9,62.7 179.8,63" fill="#fbeb54"/>
<polygon points="132.3,57.5 138.8,55.8 133.4,53.5 127,55.1" fill="#fb9b43"/>
<polygon points="214.9,72.4 220.8,72.3 214.9,70 209.1,69.9" fill="#e7f955"/>
<polygon points="173.6,63.7 179.8,63 174.2,60.5 168,61.1" fill="#fcdc52"/>
<polygon points="120.4,57.2 127,55.1 121.6,52.7 115.1,54.7" fill="#f98c3e"/>
<polygon points="108.4,57.2 115.1,54.7 109.8,52.4 103.2,54.9" fill="#f8853c"/>
<polygon points="203.1,70.2 209.1,69.9 203.3,67.5 197.3,67.6" fill="#f5f555"/>
<polygon points="161.7,62.1 168,61.1 162.4,58.6 156.2,59.5" fill="#fccc51"/>
<polygon points="96.4,57.8 103.2,54.9 98,52.6 91.2,55.4" fill="#f9873d"/>
<polygon points="84.4,58.8 91.2,55.4 86.1,53.2 79.3,56.5" fill="#fa9341"/>
<polygon points="149.8,60.9 156.2,59.5 150.6,57 144.3,58.3" fill="#fcba4d"/>
<polygon points="191.2,68.1 197.3,67.6 191.6,65.2 185.5,65.5" fill="#faf055"/>
<polygon points="72.4,60.3 79.3,56.5 74.2,54.2 67.4,58" fill="#fba346"/>
<polygon points="137.8,60.1 144.3,58.3 138.8,55.8 132.3,57.5" fill="#fca849"/>
<polygon points="220.9,74.9 226.7,74.6 220.8,72.3 214.9,72.4" fill="#e0f955"/>
<polygon points="179.3,66.3 185.5,65.5 179.8,63 173.6,63.7" fill="#fbe253"/>
<polygon points="125.8,59.7 132.3,57.5 127,55.1 120.4,57.2" fill="#fb9c44"/>
<polygon points="113.8,59.7 120.4,57.2 115.1,54.7 108.4,57.2" fill="#fa9642"/>
<polygon points="167.4,64.8 173.6,63.7 168,61.1 161.7,62.1" fill="#fcd451"/>
<polygon points="209,72.8 214.9,72.4 209.1,69.9 203.1,70.2" fill="#f3f755"/>
<polygon points="101.7,60.2 108.4,57.2 103.2,54.9 96.4,57.8" fill="#fa9742"/>
<polygon points="89.6,61.2 96.4,57.8 91.2,55.4 84.4,58.8" fill="#fb9f45"/>
<polygon points="155.4,63.5 161.7,62.1 156.2,59.5 149.8,60.9" fill="#fcc750"/>
<polygon points="197.1,70.8 203.1,70.2 197.3,67.6 191.2,68.1" fill="#f8f255"/>
<polygon points="77.6,62.7 84.4,58.8 79.3,56.5 72.4,60.3" fill="#fcae4a"/>
<polygon points="143.3,62.7 149.8,60.9 144.3,58.3 137.8,60.1" fill="#fcb64c"/>
<polygon points="185.1,69 191.2,68.1 185.5,65.5 179.3,66.3" fill="#fbe954"/>
<polygon points="131.2,62.3 137.8,60.1 132.3,57.5 125.8,59.7" fill="#fcaa49"/>
<polygon points="119.1,62.3 125.8,59.7 120.4,57.2 113.8,59.7" fill="#fba447"/>
<polygon points="173.1,67.5 179.3,66.3 173.6,63.7 167.4,64.8" fill="#fcdc52"/>
<polygon points="214.9,75.5 220.9,74.9 214.9,72.4 209,72.8" fill="#eff855"/>
<polygon points="107,62.7 113.8,59.7 108.4,57.2 101.7,60.2" fill="#fba447"/>
<polygon points="161,66.3 167.4,64.8 161.7,62.1 155.4,63.5" fill="#fccf51"/>
<polygon points="94.9,63.7 101.7,60.2 96.4,57.8 89.6,61.2" fill="#fcac4a"/>
<polygon points="203,73.6 209,72.8 203.1,70.2 197.1,70.8" fill="#f6f455"/>
<polygon points="82.8,65.1 89.6,61.2 84.4,58.8 77.6,62.7" fill="#fcb94d"/>
<polygon points="148.9,65.4 155.4,63.5 149.8,60.9 143.3,62.7" fill="#fcc550"/>
<polygon points="190.9,71.9 197.1,70.8 191.2,68.1 185.1,69" fill="#faef55"/>
<polygon points="136.8,64.9 143.3,62.7 137.8,60.1 131.2,62.3" fill="#fcb84d"/>
<polygon points="178.8,70.3 185.1,69 179.3,66.3 173.1,67.5" fill="#fbe353"/>
<polygon points="124.6,64.9 131.2,62.3 125.8,59.7 119.1,62.3" fill="#fcb24b"/>
<polygon points="112.4,65.4 119.1,62.3 113.8,59.7 107,62.7" fill="#fcb24b"/>
<polygon points="166.7,69.1 173.1,67.5 167.4,64.8 161,66.3" fill="#fcd852"/>
<polygon points="100.2,66.3 107,62.7 101.7,60.2 94.9,63.7" fill="#fcb84d"/>
<polygon points="208.9,76.4 214.9,75.5 209,72.8 203,73.6" fill="#f4f655"/>
<polygon points="88,67.7 94.9,63.7 89.6,61.2 82.8,65.1" fill="#fcc550"/>
<polygon points="154.5,68.2 161,66.3 155.4,63.5 148.9,65.4" fill="#fcce51"/>
<polygon points="196.8,74.7 203,73.6 197.1,70.8 190.9,71.9" fill="#f8f255"/>
<polygon points="142.3,67.7 148.9,65.4 143.3,62.7 136.8,64.9" fill="#fcc750"/>
<polygon points="184.7,73.3 190.9,71.9 185.1,69 178.8,70.3" fill="#fbeb54"/>
<polygon points="130.1,67.7 136.8,64.9 131.2,62.3 124.6,64.9" fill="#fcc04f"/>
<polygon points="117.9,68.1 124.6,64.9 119.1,62.3 112.4,65.4" fill="#fcc04f"/>
<polygon points="172.5,72 178.8,70.3 173.1,67.5 166.7,69.1" fill="#fce053"/>
<polygon points="105.6,69 112.4,65.4 107,62.7 100.2,66.3" fill="#fcc550"/>
<polygon points="93.3,70.3 100.2,66.3 94.9,63.7 88,67.7" fill="#fccd51"/>
<polygon points="160.3,71.1 166.7,69.1 161,66.3 154.5,68.2" fill="#fcd752"/>
<polygon points="202.8,77.7 208.9,76.4 203,73.6 196.8,74.7" fill="#f6f455"/>
<polygon points="148,70.6 154.5,68.2 148.9,65.4 142.3,67.7" fill="#fcd051"/>
<polygon points="190.6,76.3 196.8,74.7 190.9,71.9 184.7,73.3" fill="#f9f155"/>
<polygon points="135.7,70.5 142.3,67.7 136.8,64.9 130.1,67.7" fill="#fccc51"/>
<polygon points="123.4,70.9 130.1,67.7 124.6,64.9 117.9,68.1" fill="#fccb50"/>
<polygon points="178.3,75.1 184.7,73.3 178.8,70.3 172.5,72" fill="#fbe854"/>
<polygon points="111,71.7 117.9,68.1 112.4,65.4 105.6,69" fill="#fcce51"/>
<polygon points="98.7,73 105.6,69 100.2,66.3 93.3,70.3" fill="#fcd451"/>
<polygon points="166,74.2 172.5,72 166.7,69.1 160.3,71.1" fill="#fce053"/>
<polygon points="153.7,73.6 160.3,71.1 154.5,68.2 148,70.6" fill="#fcd952"/>
<polygon points="196.5,79.4 202.8,77.7 196.8,74.7 190.6,76.3" fill="#f7f355"/>
<polygon points="141.3,73.5 148,70.6 142.3,67.7 135.7,70.5" fill="#fcd551"/>
<polygon points="129,73.8 135.7,70.5 130.1,67.7 123.4,70.9" fill="#fcd451"/>
<polygon points="184.2,78.2 190.6,76.3 184.7,73.3 178.3,75.1" fill="#faf055"/>
<polygon points="116.5,74.6 123.4,70.9 117.9,68.1 111,71.7" fill="#fcd651"/>
<polygon points="104.1,75.8 111,71.7 105.6,69 98.7,73" fill="#fcdc52"/>
<polygon points="171.9,77.3 178.3,75.1 172.5,72 166,74.2" fill="#fbe854"/>
<polygon points="159.5,76.7 166,74.2 160.3,71.1 153.7,73.6" fill="#fbe253"/>
<polygon points="147.1,76.5 153.7,73.6 148,70.6 141.3,73.5" fill="#fcde52"/>
<polygon points="134.6,76.8 141.3,73.5 135.7,70.5 129,73.8" fill="#fcdd52"/>
<polygon points="190.2,81.4 196.5,79.4 190.6,76.3 184.2,78.2" fill="#f7f355"/>
<polygon points="122.1,77.5 129,73.8 123.4,70.9 116.5,74.6" fill="#fcde52"/>
<polygon points="109.6,78.7 116.5,74.6 111,71.7 104.1,75.8" fill="#fbe353"/>
<polygon points="177.8,80.5 184.2,78.2 178.3,75.1 171.9,77.3" fill="#faf055"/>
<polygon points="165.3,79.9 171.9,77.3 166,74.2 159.5,76.7" fill="#fbea54"/>
<polygon points="152.8,79.7 159.5,76.7 153.7,73.6 147.1,76.5" fill="#fbe654"/>
<polygon points="140.3,79.9 147.1,76.5 141.3,73.5 134.6,76.8" fill="#fbe553"/>
<polygon points="127.8,80.6 134.6,76.8 129,73.8 122.1,77.5" fill="#fbe653"/>
<polygon points="115.2,81.7 122.1,77.5 116.5,74.6 109.6,78.7" fill="#fbea54"/>
<polygon points="183.8,83.8 190.2,81.4 184.2,78.2 177.8,80.5" fill="#f7f355"/>
<polygon points="171.2,83.2 177.8,80.5 171.9,77.3 165.3,79.9" fill="#f9f155"/>
<polygon points="158.7,82.9 165.3,79.9 159.5,76.7 152.8,79.7" fill="#faef55"/>
<polygon points="146.1,83.1 152.8,79.7 147.1,76.5 140.3,79.9" fill="#faed55"/>
<polygon points="133.5,83.7 140.3,79.9 134.6,76.8 127.8,80.6" fill="#faee55"/>
<polygon points="120.9,84.8 127.8,80.6 122.1,77.5 115.2,81.7" fill="#f9f155"/>
<polygon points="177.2,86.6 183.8,83.8 177.8,80.5 171.2,83.2" fill="#f6f455"/>
<polygon points="164.6,86.3 171.2,83.2 165.3,79.9 158.7,82.9" fill="#f8f255"/>
<polygon points="151.9,86.4 158.7,82.9 152.8,79.7 146.1,83.1" fill="#f8f255"/>
<polygon points="139.3,86.9 146.1,83.1 140.3,79.9 133.5,83.7" fill="#f8f255"/>
<polygon points="126.6,88 133.5,83.7 127.8,80.6 120.9,84.8" fill="#f7f355"/>
<polygon points="170.6,89.7 177.2,86.6 171.2,83.2 164.6,86.3" fill="#f5f555"/>
<polygon points="157.9,89.8 164.6,86.3 158.7,82.9 151.9,86.4" fill="#f5f555"/>
<polygon points="145.1,90.3 151.9,86.4 146.1,83.1 139.3,86.9" fill="#f5f555"/>
<polygon points="132.3,91.2 139.3,86.9 133.5,83.7 126.6,88" fill="#f4f655"/>
<polygon points="163.9,93.3 170.6,89.7 164.6,86.3 157.9,89.8" fill="#f2f855"/>
<polygon points="151,93.7 157.9,89.8 151.9,86.4 145.1,90.3" fill="#f2f855"/>
<polygon points="138.2,94.6 145.1,90.3 139.3,86.9 132.3,91.2" fill="#f0f855"/>
<polygon points="157,97.2 163.9,93.3 157.9,89.8 151,93.7" fill="#e6f955"/>
<polygon points="144.1,98.1 151,93.7 145.1,90.3 138.2,94.6" fill="#e3f955"/>
<polygon points="150.1,101.6 157,97.2 151,93.7 144.1,98.1" fill="#d6fa55"/>
</g>
<g font-family='"Liberation Sans","DejaVu Sans",sans-serif' fill="#505050">
<text x="157.2" y="246.7" font-size="5.76" text-anchor="middle" textLength="12.39" lengthAdjust="spacingAndGlyphs">1,100</text>
<text x="184.6" y="233.5" font-size="5.76" text-anchor="middle" textLength="12.39" lengthAdjust="spacingAndGlyphs">1,300</text>
<text x="212" y="220.2" font-size="5.76" text-anchor="middle" textLength="12.39" lengthAdjust="spacingAndGlyphs">1,500</text>
<text x="239.4" y="207" font-size="5.76" text-anchor="middle" textLength="12.39" lengthAdjust="spacingAndGlyphs">1,700</text>
<text x="266.7" y="193.8" font-size="5.76" text-anchor="middle" textLength="12.39" lengthAdjust="spacingAndGlyphs">1,900</text>
<text x="142.9" y="243.5" font-size="5.76" text-anchor="end" textLength="15.15" lengthAdjust="spacingAndGlyphs">38,000</text>
<text x="119" y="231.1" font-size="5.76" text-anchor="end" textLength="15.15" lengthAdjust="spacingAndGlyphs">39,000</text>
<text x="91.6" y="217.8" font-size="5.76" text-anchor="end" textLength="15.15" lengthAdjust="spacingAndGlyphs">40,000</text>
<text x="64.2" y="204.6" font-size="5.76" text-anchor="end" textLength="15.15" lengthAdjust="spacingAndGlyphs">41,000</text>
<text x="36.8" y="191.4" font-size="5.76" text-anchor="end" textLength="15.15" lengthAdjust="spacingAndGlyphs">42,000</text>
<text x="34.3" y="128.7" font-size="5.76" text-anchor="end" textLength="6.88" lengthAdjust="spacingAndGlyphs">0.0</text>
<text x="33.4" y="110.1" font-size="5.76" text-anchor="end" textLength="6.88" lengthAdjust="spacingAndGlyphs">0.5</text>
<text x="32.5" y="91.6" font-size="5.76" text-anchor="end" textLength="6.88" lengthAdjust="spacingAndGlyphs">1.0</text>
<text x="31.6" y="73" font-size="5.76" text-anchor="end" textLength="6.88" lengthAdjust="spacingAndGlyphs">1.5</text>
<text x="30.7" y="54.5" font-size="5.76" text-anchor="end" textLength="6.88" lengthAdjust="spacingAndGlyphs">2.0</text>
<text x="29.8" y="35.9" font-size="5.76" text-anchor="end" textLength="6.88" lengthAdjust="spacingAndGlyphs">2.5</text>
</g>
</g>
<g font-family='"Liberation Serif","DejaVu Serif",serif' font-weight="bold" fill="#111" stroke="#111" stroke-width="0.12">
<text transform="translate(153.5,442.8) rotate(-90.00)" font-size="10.8" textLength="121" lengthAdjust="spacingAndGlyphs">Splashing density (kg·m<tspan font-size="62%" dy="-0.6em">−2</tspan><tspan dy="0.372em">·s</tspan><tspan font-size="62%" dy="-0.6em">−1</tspan><tspan dy="0.372em">)</tspan></text>
<text transform="translate(159.9,470.1) rotate(27.30)" font-size="10.8" textLength="131.9" lengthAdjust="spacingAndGlyphs">Top blowing flowrate (Nm<tspan font-size="62%" dy="-0.6em">3</tspan><tspan dy="0.372em">·h</tspan><tspan font-size="62%" dy="-0.6em">−1</tspan><tspan dy="0.372em">)</tspan></text>
<text transform="translate(298.1,521.3) rotate(-25.75)" font-size="10.8" textLength="110.5" lengthAdjust="spacingAndGlyphs">Oxygen lance height (mm)</text>
</g>
</svg></body></html>
